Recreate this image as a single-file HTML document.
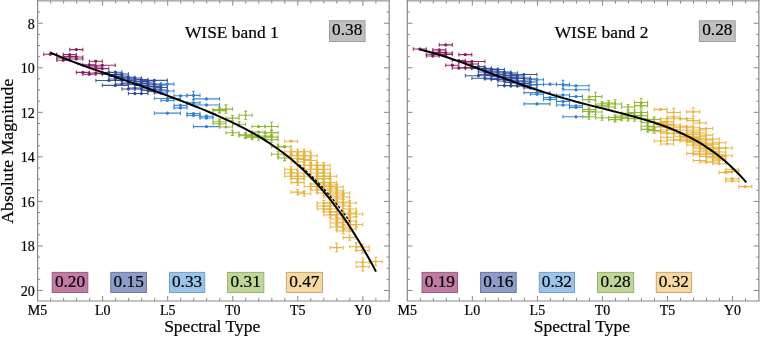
<!DOCTYPE html>
<html><head><meta charset="utf-8"><title>WISE absolute magnitude vs spectral type</title>
<style>html,body{margin:0;padding:0;background:#fff}body{width:760px;height:337px;overflow:hidden}</style></head>
<body>
<svg width="760" height="337" viewBox="0 0 760 337" style="display:block;font-family:'Liberation Serif',serif;filter:blur(0.35px)">
<rect width="760" height="337" fill="#fff"/>
<g id="pts0">
<path d="M43.8 54.2H56.8M43.8 52.5V56.0M56.8 52.5V56.0M50.3 53.0V55.5" stroke="#8a1a5e" stroke-width="1.1" fill="none" opacity="0.92"/>
<circle cx="50.3" cy="54.2" r="1.6" fill="#8a1a5e"/>
<path d="M56.8 58.0H69.8M56.8 56.2V59.8M69.8 56.2V59.8M63.3 56.8V59.2" stroke="#8a1a5e" stroke-width="1.1" fill="none" opacity="0.92"/>
<circle cx="63.3" cy="58.0" r="1.6" fill="#8a1a5e"/>
<path d="M56.8 60.2H69.8M56.8 58.5V62.0M69.8 58.5V62.0M63.3 59.0V61.5" stroke="#8a1a5e" stroke-width="1.1" fill="none" opacity="0.92"/>
<circle cx="63.3" cy="60.2" r="1.6" fill="#8a1a5e"/>
<path d="M63.3 54.6H76.3M63.3 52.8V56.4M76.3 52.8V56.4M69.8 53.4V55.8" stroke="#8a1a5e" stroke-width="1.1" fill="none" opacity="0.92"/>
<circle cx="69.8" cy="54.6" r="1.6" fill="#8a1a5e"/>
<path d="M63.3 56.5H76.3M63.3 54.7V58.3M76.3 54.7V58.3M69.8 55.3V57.7" stroke="#8a1a5e" stroke-width="1.1" fill="none" opacity="0.92"/>
<circle cx="69.8" cy="56.5" r="1.6" fill="#8a1a5e"/>
<path d="M69.8 49.6H82.8M69.8 47.8V51.4M82.8 47.8V51.4M76.3 48.4V50.8" stroke="#8a1a5e" stroke-width="1.1" fill="none" opacity="0.92"/>
<circle cx="76.3" cy="49.6" r="1.6" fill="#8a1a5e"/>
<path d="M69.8 57.0H82.8M69.8 55.2V58.8M82.8 55.2V58.8M76.3 55.8V58.2" stroke="#8a1a5e" stroke-width="1.1" fill="none" opacity="0.92"/>
<circle cx="76.3" cy="57.0" r="1.6" fill="#8a1a5e"/>
<path d="M69.8 59.0H82.8M69.8 57.2V60.8M82.8 57.2V60.8M76.3 57.8V60.2" stroke="#8a1a5e" stroke-width="1.1" fill="none" opacity="0.92"/>
<circle cx="76.3" cy="59.0" r="1.6" fill="#8a1a5e"/>
<path d="M76.3 72.4H89.3M76.3 70.6V74.2M89.3 70.6V74.2M82.8 71.2V73.6" stroke="#8a1a5e" stroke-width="1.1" fill="none" opacity="0.92"/>
<circle cx="82.8" cy="72.4" r="1.6" fill="#8a1a5e"/>
<path d="M82.8 64.9H95.8M82.8 63.1V66.7M95.8 63.1V66.7M89.3 63.7V66.1" stroke="#8a1a5e" stroke-width="1.1" fill="none" opacity="0.92"/>
<circle cx="89.3" cy="64.9" r="1.6" fill="#8a1a5e"/>
<path d="M82.8 74.2H95.8M82.8 72.5V76.0M95.8 72.5V76.0M89.3 73.0V75.5" stroke="#8a1a5e" stroke-width="1.1" fill="none" opacity="0.92"/>
<circle cx="89.3" cy="74.2" r="1.6" fill="#8a1a5e"/>
<path d="M89.3 61.2H102.3M89.3 59.5V63.0M102.3 59.5V63.0M95.8 60.0V62.5" stroke="#8a1a5e" stroke-width="1.1" fill="none" opacity="0.92"/>
<circle cx="95.8" cy="61.2" r="1.6" fill="#8a1a5e"/>
<path d="M89.3 67.0H102.3M89.3 65.2V68.8M102.3 65.2V68.8M95.8 65.8V68.2" stroke="#8a1a5e" stroke-width="1.1" fill="none" opacity="0.92"/>
<circle cx="95.8" cy="67.0" r="1.6" fill="#8a1a5e"/>
<path d="M89.3 73.0H102.3M89.3 71.2V74.8M102.3 71.2V74.8M95.8 71.8V74.2" stroke="#8a1a5e" stroke-width="1.1" fill="none" opacity="0.92"/>
<circle cx="95.8" cy="73.0" r="1.6" fill="#8a1a5e"/>
<path d="M89.3 65.2H115.3M89.3 63.5V67.0M115.3 63.5V67.0M102.3 64.0V66.5" stroke="#8a1a5e" stroke-width="1.1" fill="none" opacity="0.92"/>
<circle cx="102.3" cy="65.2" r="1.6" fill="#8a1a5e"/>
<path d="M95.8 68.6H108.8M95.8 66.8V70.4M108.8 66.8V70.4M102.3 67.4V69.8" stroke="#8a1a5e" stroke-width="1.1" fill="none" opacity="0.92"/>
<circle cx="102.3" cy="68.6" r="1.6" fill="#8a1a5e"/>
<path d="M95.8 73.6H108.8M95.8 71.8V75.4M108.8 71.8V75.4M102.3 72.4V74.8" stroke="#8a1a5e" stroke-width="1.1" fill="none" opacity="0.92"/>
<circle cx="102.3" cy="73.6" r="1.6" fill="#8a1a5e"/>
<path d="M102.4 72.5H115.4M102.4 70.7V74.3M115.4 70.7V74.3M108.9 71.3V73.7" stroke="#2c4a9c" stroke-width="1.1" fill="none" opacity="0.92"/>
<circle cx="108.9" cy="72.5" r="1.6" fill="#2c4a9c"/>
<path d="M102.4 74.5H115.4M102.4 72.7V76.3M115.4 72.7V76.3M108.9 73.3V75.7" stroke="#2c4a9c" stroke-width="1.1" fill="none" opacity="0.92"/>
<circle cx="108.9" cy="74.5" r="1.6" fill="#2c4a9c"/>
<path d="M95.9 80.5H121.9M95.9 78.7V82.3M121.9 78.7V82.3M108.9 79.3V81.7" stroke="#2c4a9c" stroke-width="1.1" fill="none" opacity="0.92"/>
<circle cx="108.9" cy="80.5" r="1.6" fill="#2c4a9c"/>
<path d="M108.9 72.2H121.9M108.9 70.5V74.0M121.9 70.5V74.0M115.4 71.0V73.5" stroke="#2c4a9c" stroke-width="1.1" fill="none" opacity="0.92"/>
<circle cx="115.4" cy="72.2" r="1.6" fill="#2c4a9c"/>
<path d="M108.9 74.5H121.9M108.9 72.7V76.3M121.9 72.7V76.3M115.4 73.3V75.7" stroke="#2c4a9c" stroke-width="1.1" fill="none" opacity="0.92"/>
<circle cx="115.4" cy="74.5" r="1.6" fill="#2c4a9c"/>
<path d="M108.9 76.5H121.9M108.9 74.7V78.3M121.9 74.7V78.3M115.4 75.3V77.7" stroke="#2c4a9c" stroke-width="1.1" fill="none" opacity="0.92"/>
<circle cx="115.4" cy="76.5" r="1.6" fill="#2c4a9c"/>
<path d="M108.9 79.0H121.9M108.9 77.2V80.8M121.9 77.2V80.8M115.4 77.8V80.2" stroke="#2c4a9c" stroke-width="1.1" fill="none" opacity="0.92"/>
<circle cx="115.4" cy="79.0" r="1.6" fill="#2c4a9c"/>
<path d="M102.4 85.4H128.4M102.4 83.6V87.2M128.4 83.6V87.2M115.4 84.2V86.6" stroke="#2c4a9c" stroke-width="1.1" fill="none" opacity="0.92"/>
<circle cx="115.4" cy="85.4" r="1.6" fill="#2c4a9c"/>
<path d="M115.4 74.0H128.4M115.4 72.2V75.8M128.4 72.2V75.8M121.9 72.8V75.2" stroke="#2c4a9c" stroke-width="1.1" fill="none" opacity="0.92"/>
<circle cx="121.9" cy="74.0" r="1.6" fill="#2c4a9c"/>
<path d="M115.4 76.0H128.4M115.4 74.2V77.8M128.4 74.2V77.8M121.9 74.8V77.2" stroke="#2c4a9c" stroke-width="1.1" fill="none" opacity="0.92"/>
<circle cx="121.9" cy="76.0" r="1.6" fill="#2c4a9c"/>
<path d="M115.4 78.0H128.4M115.4 76.2V79.8M128.4 76.2V79.8M121.9 76.8V79.2" stroke="#2c4a9c" stroke-width="1.1" fill="none" opacity="0.92"/>
<circle cx="121.9" cy="78.0" r="1.6" fill="#2c4a9c"/>
<path d="M115.4 80.5H128.4M115.4 78.7V82.3M128.4 78.7V82.3M121.9 79.3V81.7" stroke="#2c4a9c" stroke-width="1.1" fill="none" opacity="0.92"/>
<circle cx="121.9" cy="80.5" r="1.6" fill="#2c4a9c"/>
<path d="M115.4 84.0H128.4M115.4 82.2V85.8M128.4 82.2V85.8M121.9 82.8V85.2" stroke="#2c4a9c" stroke-width="1.1" fill="none" opacity="0.92"/>
<circle cx="121.9" cy="84.0" r="1.6" fill="#2c4a9c"/>
<path d="M121.9 77.2H134.9M121.9 75.5V79.0M134.9 75.5V79.0M128.4 76.0V78.5" stroke="#2c4a9c" stroke-width="1.1" fill="none" opacity="0.92"/>
<circle cx="128.4" cy="77.2" r="1.6" fill="#2c4a9c"/>
<path d="M121.9 79.0H134.9M121.9 77.2V80.8M134.9 77.2V80.8M128.4 77.8V80.2" stroke="#2c4a9c" stroke-width="1.1" fill="none" opacity="0.92"/>
<circle cx="128.4" cy="79.0" r="1.6" fill="#2c4a9c"/>
<path d="M121.9 80.5H134.9M121.9 78.7V82.3M134.9 78.7V82.3M128.4 79.3V81.7" stroke="#2c4a9c" stroke-width="1.1" fill="none" opacity="0.92"/>
<circle cx="128.4" cy="80.5" r="1.6" fill="#2c4a9c"/>
<path d="M121.9 83.0H134.9M121.9 81.2V84.8M134.9 81.2V84.8M128.4 81.8V84.2" stroke="#2c4a9c" stroke-width="1.1" fill="none" opacity="0.92"/>
<circle cx="128.4" cy="83.0" r="1.6" fill="#2c4a9c"/>
<path d="M121.9 89.0H134.9M121.9 87.2V90.8M134.9 87.2V90.8M128.4 87.8V90.2" stroke="#2c4a9c" stroke-width="1.1" fill="none" opacity="0.92"/>
<circle cx="128.4" cy="89.0" r="1.6" fill="#2c4a9c"/>
<path d="M128.4 78.0H141.4M128.4 76.2V79.8M141.4 76.2V79.8M134.9 76.8V79.2" stroke="#2c4a9c" stroke-width="1.1" fill="none" opacity="0.92"/>
<circle cx="134.9" cy="78.0" r="1.6" fill="#2c4a9c"/>
<path d="M128.4 80.0H141.4M128.4 78.2V81.8M141.4 78.2V81.8M134.9 78.8V81.2" stroke="#2c4a9c" stroke-width="1.1" fill="none" opacity="0.92"/>
<circle cx="134.9" cy="80.0" r="1.6" fill="#2c4a9c"/>
<path d="M128.4 82.0H141.4M128.4 80.2V83.8M141.4 80.2V83.8M134.9 80.8V83.2" stroke="#2c4a9c" stroke-width="1.1" fill="none" opacity="0.92"/>
<circle cx="134.9" cy="82.0" r="1.6" fill="#2c4a9c"/>
<path d="M128.4 84.5H141.4M128.4 82.7V86.3M141.4 82.7V86.3M134.9 83.3V85.7" stroke="#2c4a9c" stroke-width="1.1" fill="none" opacity="0.92"/>
<circle cx="134.9" cy="84.5" r="1.6" fill="#2c4a9c"/>
<path d="M128.4 88.0H141.4M128.4 86.2V89.8M141.4 86.2V89.8M134.9 86.8V89.2" stroke="#2c4a9c" stroke-width="1.1" fill="none" opacity="0.92"/>
<circle cx="134.9" cy="88.0" r="1.6" fill="#2c4a9c"/>
<path d="M128.4 93.5H141.4M128.4 91.7V95.3M141.4 91.7V95.3M134.9 92.3V94.7" stroke="#2c4a9c" stroke-width="1.1" fill="none" opacity="0.92"/>
<circle cx="134.9" cy="93.5" r="1.6" fill="#2c4a9c"/>
<path d="M134.9 79.5H147.9M134.9 77.7V81.3M147.9 77.7V81.3M141.4 78.3V80.7" stroke="#2c4a9c" stroke-width="1.1" fill="none" opacity="0.92"/>
<circle cx="141.4" cy="79.5" r="1.6" fill="#2c4a9c"/>
<path d="M134.9 81.5H147.9M134.9 79.7V83.3M147.9 79.7V83.3M141.4 80.3V82.7" stroke="#2c4a9c" stroke-width="1.1" fill="none" opacity="0.92"/>
<circle cx="141.4" cy="81.5" r="1.6" fill="#2c4a9c"/>
<path d="M134.9 83.5H147.9M134.9 81.7V85.3M147.9 81.7V85.3M141.4 82.3V84.7" stroke="#2c4a9c" stroke-width="1.1" fill="none" opacity="0.92"/>
<circle cx="141.4" cy="83.5" r="1.6" fill="#2c4a9c"/>
<path d="M134.9 85.5H147.9M134.9 83.7V87.3M147.9 83.7V87.3M141.4 84.3V86.7" stroke="#2c4a9c" stroke-width="1.1" fill="none" opacity="0.92"/>
<circle cx="141.4" cy="85.5" r="1.6" fill="#2c4a9c"/>
<path d="M134.9 89.0H147.9M134.9 87.2V90.8M147.9 87.2V90.8M141.4 87.8V90.2" stroke="#2c4a9c" stroke-width="1.1" fill="none" opacity="0.92"/>
<circle cx="141.4" cy="89.0" r="1.6" fill="#2c4a9c"/>
<path d="M134.9 93.5H147.9M134.9 91.7V95.3M147.9 91.7V95.3M141.4 92.3V94.7" stroke="#2c4a9c" stroke-width="1.1" fill="none" opacity="0.92"/>
<circle cx="141.4" cy="93.5" r="1.6" fill="#2c4a9c"/>
<path d="M141.4 81.0H154.4M141.4 79.2V82.8M154.4 79.2V82.8M147.9 79.8V82.2" stroke="#2c4a9c" stroke-width="1.1" fill="none" opacity="0.92"/>
<circle cx="147.9" cy="81.0" r="1.6" fill="#2c4a9c"/>
<path d="M141.4 83.0H154.4M141.4 81.2V84.8M154.4 81.2V84.8M147.9 81.8V84.2" stroke="#2c4a9c" stroke-width="1.1" fill="none" opacity="0.92"/>
<circle cx="147.9" cy="83.0" r="1.6" fill="#2c4a9c"/>
<path d="M141.4 85.0H154.4M141.4 83.2V86.8M154.4 83.2V86.8M147.9 83.8V86.2" stroke="#2c4a9c" stroke-width="1.1" fill="none" opacity="0.92"/>
<circle cx="147.9" cy="85.0" r="1.6" fill="#2c4a9c"/>
<path d="M141.4 87.0H154.4M141.4 85.2V88.8M154.4 85.2V88.8M147.9 85.8V88.2" stroke="#2c4a9c" stroke-width="1.1" fill="none" opacity="0.92"/>
<circle cx="147.9" cy="87.0" r="1.6" fill="#2c4a9c"/>
<path d="M141.4 90.5H154.4M141.4 88.7V92.3M154.4 88.7V92.3M147.9 89.3V91.7" stroke="#2c4a9c" stroke-width="1.1" fill="none" opacity="0.92"/>
<circle cx="147.9" cy="90.5" r="1.6" fill="#2c4a9c"/>
<path d="M141.4 80.4H167.4M141.4 78.6V82.2M167.4 78.6V82.2M154.4 79.2V81.6" stroke="#2c4a9c" stroke-width="1.1" fill="none" opacity="0.92"/>
<circle cx="154.4" cy="80.4" r="1.6" fill="#2c4a9c"/>
<path d="M147.9 84.0H160.9M147.9 82.2V85.8M160.9 82.2V85.8M154.4 82.8V85.2" stroke="#2c4a9c" stroke-width="1.1" fill="none" opacity="0.92"/>
<circle cx="154.4" cy="84.0" r="1.6" fill="#2c4a9c"/>
<path d="M147.9 86.5H160.9M147.9 84.7V88.3M160.9 84.7V88.3M154.4 85.3V87.7" stroke="#2c4a9c" stroke-width="1.1" fill="none" opacity="0.92"/>
<circle cx="154.4" cy="86.5" r="1.6" fill="#2c4a9c"/>
<path d="M147.9 89.0H160.9M147.9 87.2V90.8M160.9 87.2V90.8M154.4 87.8V90.2" stroke="#2c4a9c" stroke-width="1.1" fill="none" opacity="0.92"/>
<circle cx="154.4" cy="89.0" r="1.6" fill="#2c4a9c"/>
<path d="M147.9 91.5H160.9M147.9 89.7V93.3M160.9 89.7V93.3M154.4 90.3V92.7" stroke="#2c4a9c" stroke-width="1.1" fill="none" opacity="0.92"/>
<circle cx="154.4" cy="91.5" r="1.6" fill="#2c4a9c"/>
<path d="M154.4 85.0H167.4M154.4 83.2V86.8M167.4 83.2V86.8M160.9 83.8V86.2" stroke="#2c4a9c" stroke-width="1.1" fill="none" opacity="0.92"/>
<circle cx="160.9" cy="85.0" r="1.6" fill="#2c4a9c"/>
<path d="M154.4 87.5H167.4M154.4 85.7V89.3M167.4 85.7V89.3M160.9 86.3V88.7" stroke="#2c4a9c" stroke-width="1.1" fill="none" opacity="0.92"/>
<circle cx="160.9" cy="87.5" r="1.6" fill="#2c4a9c"/>
<path d="M154.4 90.0H167.4M154.4 88.2V91.8M167.4 88.2V91.8M160.9 88.8V91.2" stroke="#2c4a9c" stroke-width="1.1" fill="none" opacity="0.92"/>
<circle cx="160.9" cy="90.0" r="1.6" fill="#2c4a9c"/>
<path d="M154.4 93.0H167.4M154.4 91.2V94.8M167.4 91.2V94.8M160.9 91.8V94.2" stroke="#2c4a9c" stroke-width="1.1" fill="none" opacity="0.92"/>
<circle cx="160.9" cy="93.0" r="1.6" fill="#2c4a9c"/>
<path d="M160.9 84.1H173.9M160.9 82.3V85.9M173.9 82.3V85.9M167.4 82.7V85.5" stroke="#2f7fd2" stroke-width="1.1" fill="none" opacity="0.92"/>
<circle cx="167.4" cy="84.1" r="1.6" fill="#2f7fd2"/>
<path d="M160.9 91.0H173.9M160.9 89.2V92.8M173.9 89.2V92.8M167.4 89.6V92.4" stroke="#2f7fd2" stroke-width="1.1" fill="none" opacity="0.92"/>
<circle cx="167.4" cy="91.0" r="1.6" fill="#2f7fd2"/>
<path d="M154.4 98.5H180.4M154.4 96.7V100.3M180.4 96.7V100.3M167.4 97.1V99.9" stroke="#2f7fd2" stroke-width="1.1" fill="none" opacity="0.92"/>
<circle cx="167.4" cy="98.5" r="1.6" fill="#2f7fd2"/>
<path d="M160.9 100.5H173.9M160.9 98.7V102.3M173.9 98.7V102.3M167.4 99.1V101.9" stroke="#2f7fd2" stroke-width="1.1" fill="none" opacity="0.92"/>
<circle cx="167.4" cy="100.5" r="1.6" fill="#2f7fd2"/>
<path d="M154.4 113.1H180.4M154.4 111.3V114.9M180.4 111.3V114.9M167.4 111.7V114.5" stroke="#2f7fd2" stroke-width="1.1" fill="none" opacity="0.92"/>
<circle cx="167.4" cy="113.1" r="1.6" fill="#2f7fd2"/>
<path d="M174.0 95.8H187.0M174.0 94.0V97.5M187.0 94.0V97.5M180.5 94.3V97.2" stroke="#2f7fd2" stroke-width="1.1" fill="none" opacity="0.92"/>
<circle cx="180.5" cy="95.8" r="1.6" fill="#2f7fd2"/>
<path d="M174.0 105.4H187.0M174.0 103.6V107.2M187.0 103.6V107.2M180.5 104.0V106.8" stroke="#2f7fd2" stroke-width="1.1" fill="none" opacity="0.92"/>
<circle cx="180.5" cy="105.4" r="1.6" fill="#2f7fd2"/>
<path d="M174.0 107.9H187.0M174.0 106.1V109.7M187.0 106.1V109.7M180.5 106.5V109.3" stroke="#2f7fd2" stroke-width="1.1" fill="none" opacity="0.92"/>
<circle cx="180.5" cy="107.9" r="1.6" fill="#2f7fd2"/>
<path d="M187.0 95.4H200.0M187.0 93.6V97.2M200.0 93.6V97.2M193.5 91.2V99.6M192.0 91.2h3M192.0 99.6h3" stroke="#2f7fd2" stroke-width="1.1" fill="none" opacity="0.92"/>
<circle cx="193.5" cy="95.4" r="1.6" fill="#2f7fd2"/>
<path d="M187.0 102.9H200.0M187.0 101.1V104.7M200.0 101.1V104.7M193.5 101.5V104.3" stroke="#2f7fd2" stroke-width="1.1" fill="none" opacity="0.92"/>
<circle cx="193.5" cy="102.9" r="1.6" fill="#2f7fd2"/>
<path d="M187.0 113.5H200.0M187.0 111.7V115.3M200.0 111.7V115.3M193.5 112.1V114.9" stroke="#2f7fd2" stroke-width="1.1" fill="none" opacity="0.92"/>
<circle cx="193.5" cy="113.5" r="1.6" fill="#2f7fd2"/>
<path d="M187.0 115.4H200.0M187.0 113.6V117.2M200.0 113.6V117.2M193.5 114.0V116.8" stroke="#2f7fd2" stroke-width="1.1" fill="none" opacity="0.92"/>
<circle cx="193.5" cy="115.4" r="1.6" fill="#2f7fd2"/>
<path d="M193.5 98.9H219.5M193.5 97.1V100.7M219.5 97.1V100.7M206.5 97.5V100.3" stroke="#2f7fd2" stroke-width="1.1" fill="none" opacity="0.92"/>
<circle cx="206.5" cy="98.9" r="1.6" fill="#2f7fd2"/>
<path d="M193.5 105.0H219.5M193.5 103.2V106.8M219.5 103.2V106.8M206.5 103.6V106.4" stroke="#2f7fd2" stroke-width="1.1" fill="none" opacity="0.92"/>
<circle cx="206.5" cy="105.0" r="1.6" fill="#2f7fd2"/>
<path d="M200.0 116.2H213.0M200.0 114.5V118.0M213.0 114.5V118.0M206.5 114.8V117.7" stroke="#2f7fd2" stroke-width="1.1" fill="none" opacity="0.92"/>
<circle cx="206.5" cy="116.2" r="1.6" fill="#2f7fd2"/>
<path d="M200.0 118.0H213.0M200.0 116.2V119.8M213.0 116.2V119.8M206.5 116.6V119.4" stroke="#2f7fd2" stroke-width="1.1" fill="none" opacity="0.92"/>
<circle cx="206.5" cy="118.0" r="1.6" fill="#2f7fd2"/>
<path d="M193.5 126.6H219.5M193.5 124.8V128.4M219.5 124.8V128.4M206.5 125.2V128.0" stroke="#2f7fd2" stroke-width="1.1" fill="none" opacity="0.92"/>
<circle cx="206.5" cy="126.6" r="1.6" fill="#2f7fd2"/>
<path d="M213.0 109.6H226.0M213.0 107.8V111.4M226.0 107.8V111.4M219.5 107.0V112.2M218.0 107.0h3M218.0 112.2h3" stroke="#8db32d" stroke-width="1.1" fill="none" opacity="0.92"/>
<circle cx="219.5" cy="109.6" r="1.1" fill="#8db32d"/>
<path d="M213.0 110.6H226.0M213.0 108.8V112.4M226.0 108.8V112.4M219.5 108.0V113.2M218.0 108.0h3M218.0 113.2h3" stroke="#8db32d" stroke-width="1.1" fill="none" opacity="0.92"/>
<circle cx="219.5" cy="110.6" r="1.1" fill="#8db32d"/>
<path d="M213.0 121.7H226.0M213.0 119.9V123.5M226.0 119.9V123.5M219.5 119.1V124.3M218.0 119.1h3M218.0 124.3h3" stroke="#8db32d" stroke-width="1.1" fill="none" opacity="0.92"/>
<circle cx="219.5" cy="121.7" r="1.1" fill="#8db32d"/>
<path d="M213.0 123.7H226.0M213.0 121.9V125.5M226.0 121.9V125.5M219.5 121.1V126.3M218.0 121.1h3M218.0 126.3h3" stroke="#8db32d" stroke-width="1.1" fill="none" opacity="0.92"/>
<circle cx="219.5" cy="123.7" r="1.1" fill="#8db32d"/>
<path d="M219.5 109.1H232.5M219.5 107.3V110.9M232.5 107.3V110.9M226.0 104.9V113.3M224.5 104.9h3M224.5 113.3h3" stroke="#8db32d" stroke-width="1.1" fill="none" opacity="0.92"/>
<circle cx="226.0" cy="109.1" r="1.1" fill="#8db32d"/>
<path d="M219.5 127.0H232.5M219.5 125.2V128.8M232.5 125.2V128.8M226.0 126.0V128.0" stroke="#8db32d" stroke-width="1.1" fill="none" opacity="0.92"/>
<circle cx="226.0" cy="127.0" r="1.6" fill="#8db32d"/>
<path d="M226.0 118.1H239.0M226.0 116.3V119.9M239.0 116.3V119.9M232.5 115.5V120.7M231.0 115.5h3M231.0 120.7h3" stroke="#8db32d" stroke-width="1.1" fill="none" opacity="0.92"/>
<circle cx="232.5" cy="118.1" r="1.1" fill="#8db32d"/>
<path d="M226.0 132.8H239.0M226.0 131.0V134.6M239.0 131.0V134.6M232.5 130.2V135.4M231.0 130.2h3M231.0 135.4h3" stroke="#8db32d" stroke-width="1.1" fill="none" opacity="0.92"/>
<circle cx="232.5" cy="132.8" r="1.1" fill="#8db32d"/>
<path d="M232.6 124.2H245.6M232.6 122.4V126.0M245.6 122.4V126.0M239.1 121.6V126.8M237.6 121.6h3M237.6 126.8h3" stroke="#8db32d" stroke-width="1.1" fill="none" opacity="0.92"/>
<circle cx="239.1" cy="124.2" r="1.1" fill="#8db32d"/>
<path d="M239.1 115.3H252.1M239.1 113.5V117.1M252.1 113.5V117.1M245.6 111.1V119.5M244.1 111.1h3M244.1 119.5h3" stroke="#8db32d" stroke-width="1.1" fill="none" opacity="0.92"/>
<circle cx="245.6" cy="115.3" r="1.1" fill="#8db32d"/>
<path d="M239.1 134.9H252.1M239.1 133.1V136.7M252.1 133.1V136.7M245.6 132.3V137.5M244.1 132.3h3M244.1 137.5h3" stroke="#8db32d" stroke-width="1.1" fill="none" opacity="0.92"/>
<circle cx="245.6" cy="134.9" r="1.1" fill="#8db32d"/>
<path d="M239.1 135.8H252.1M239.1 134.0V137.6M252.1 134.0V137.6M245.6 133.2V138.4M244.1 133.2h3M244.1 138.4h3" stroke="#8db32d" stroke-width="1.1" fill="none" opacity="0.92"/>
<circle cx="245.6" cy="135.8" r="1.1" fill="#8db32d"/>
<path d="M245.6 136.1H258.6M245.6 134.3V137.9M258.6 134.3V137.9M252.1 133.5V138.7M250.6 133.5h3M250.6 138.7h3" stroke="#8db32d" stroke-width="1.1" fill="none" opacity="0.92"/>
<circle cx="252.1" cy="136.1" r="1.1" fill="#8db32d"/>
<path d="M245.6 137.1H258.6M245.6 135.3V138.9M258.6 135.3V138.9M252.1 134.5V139.7M250.6 134.5h3M250.6 139.7h3" stroke="#8db32d" stroke-width="1.1" fill="none" opacity="0.92"/>
<circle cx="252.1" cy="137.1" r="1.1" fill="#8db32d"/>
<path d="M252.1 126.5H265.1M252.1 124.7V128.3M265.1 124.7V128.3M258.6 125.5V127.5" stroke="#8db32d" stroke-width="1.1" fill="none" opacity="0.92"/>
<circle cx="258.6" cy="126.5" r="1.6" fill="#8db32d"/>
<path d="M252.1 132.1H265.1M252.1 130.3V133.9M265.1 130.3V133.9M258.6 131.1V133.1" stroke="#8db32d" stroke-width="1.1" fill="none" opacity="0.92"/>
<circle cx="258.6" cy="132.1" r="1.6" fill="#8db32d"/>
<path d="M252.1 137.6H265.1M252.1 135.8V139.4M265.1 135.8V139.4M258.6 135.0V140.2M257.1 135.0h3M257.1 140.2h3" stroke="#8db32d" stroke-width="1.1" fill="none" opacity="0.92"/>
<circle cx="258.6" cy="137.6" r="1.1" fill="#8db32d"/>
<path d="M258.6 136.1H271.6M258.6 134.3V137.9M271.6 134.3V137.9M265.1 133.5V138.7M263.6 133.5h3M263.6 138.7h3" stroke="#8db32d" stroke-width="1.1" fill="none" opacity="0.92"/>
<circle cx="265.1" cy="136.1" r="1.1" fill="#8db32d"/>
<path d="M265.1 126.5H278.1M265.1 124.7V128.3M278.1 124.7V128.3M271.6 122.3V130.7M270.1 122.3h3M270.1 130.7h3" stroke="#8db32d" stroke-width="1.1" fill="none" opacity="0.92"/>
<circle cx="271.6" cy="126.5" r="1.1" fill="#8db32d"/>
<path d="M265.1 132.6H278.1M265.1 130.8V134.4M278.1 130.8V134.4M271.6 130.0V135.2M270.1 130.0h3M270.1 135.2h3" stroke="#8db32d" stroke-width="1.1" fill="none" opacity="0.92"/>
<circle cx="271.6" cy="132.6" r="1.1" fill="#8db32d"/>
<path d="M265.1 137.1H278.1M265.1 135.3V138.9M278.1 135.3V138.9M271.6 134.5V139.7M270.1 134.5h3M270.1 139.7h3" stroke="#8db32d" stroke-width="1.1" fill="none" opacity="0.92"/>
<circle cx="271.6" cy="137.1" r="1.1" fill="#8db32d"/>
<path d="M265.1 139.6H278.1M265.1 137.8V141.4M278.1 137.8V141.4M271.6 137.0V142.2M270.1 137.0h3M270.1 142.2h3" stroke="#8db32d" stroke-width="1.1" fill="none" opacity="0.92"/>
<circle cx="271.6" cy="139.6" r="1.1" fill="#8db32d"/>
<path d="M271.6 146.7H284.6M271.6 144.9V148.5M284.6 144.9V148.5M278.1 144.1V149.3M276.6 144.1h3M276.6 149.3h3" stroke="#8db32d" stroke-width="1.1" fill="none" opacity="0.92"/>
<circle cx="278.1" cy="146.7" r="1.1" fill="#8db32d"/>
<path d="M271.6 154.3H284.6M271.6 152.5V156.1M284.6 152.5V156.1M278.1 151.7V156.9M276.6 151.7h3M276.6 156.9h3" stroke="#8db32d" stroke-width="1.1" fill="none" opacity="0.92"/>
<circle cx="278.1" cy="154.3" r="1.1" fill="#8db32d"/>
<path d="M278.1 146.7H291.1M278.1 144.9V148.5M291.1 144.9V148.5M284.6 145.7V147.7" stroke="#8db32d" stroke-width="1.1" fill="none" opacity="0.92"/>
<circle cx="284.6" cy="146.7" r="1.6" fill="#8db32d"/>
<path d="M278.1 158.0H291.1M278.1 156.2V159.8M291.1 156.2V159.8M284.6 155.4V160.6M283.1 155.4h3M283.1 160.6h3" stroke="#8db32d" stroke-width="1.1" fill="none" opacity="0.92"/>
<circle cx="284.6" cy="158.0" r="1.1" fill="#8db32d"/>
<path d="M284.6 141.2H297.6M284.6 139.4V143.0M297.6 139.4V143.0M291.1 140.2V142.2" stroke="#e6b13a" stroke-width="1.1" fill="none" opacity="0.92"/>
<circle cx="291.1" cy="141.2" r="1.6" fill="#e6b13a"/>
<path d="M284.6 151.8H297.6M284.6 150.0V153.6M297.6 150.0V153.6M291.1 149.2V154.4M289.6 149.2h3M289.6 154.4h3" stroke="#e6b13a" stroke-width="1.1" fill="none" opacity="0.92"/>
<circle cx="291.1" cy="151.8" r="1.1" fill="#e6b13a"/>
<path d="M284.6 155.7H297.6M284.6 153.9V157.5M297.6 153.9V157.5M291.1 153.1V158.3M289.6 153.1h3M289.6 158.3h3" stroke="#e6b13a" stroke-width="1.1" fill="none" opacity="0.92"/>
<circle cx="291.1" cy="155.7" r="1.1" fill="#e6b13a"/>
<path d="M284.6 169.2H297.6M284.6 167.4V171.0M297.6 167.4V171.0M291.1 166.6V171.8M289.6 166.6h3M289.6 171.8h3" stroke="#e6b13a" stroke-width="1.1" fill="none" opacity="0.92"/>
<circle cx="291.1" cy="169.2" r="1.1" fill="#e6b13a"/>
<path d="M284.6 173.0H297.6M284.6 171.2V174.8M297.6 171.2V174.8M291.1 170.4V175.6M289.6 170.4h3M289.6 175.6h3" stroke="#e6b13a" stroke-width="1.1" fill="none" opacity="0.92"/>
<circle cx="291.1" cy="173.0" r="1.1" fill="#e6b13a"/>
<path d="M284.6 176.3H297.6M284.6 174.5V178.1M297.6 174.5V178.1M291.1 173.7V178.9M289.6 173.7h3M289.6 178.9h3" stroke="#e6b13a" stroke-width="1.1" fill="none" opacity="0.92"/>
<circle cx="291.1" cy="176.3" r="1.1" fill="#e6b13a"/>
<path d="M291.1 151.8H304.1M291.1 150.0V153.6M304.1 150.0V153.6M297.6 149.2V154.4M296.1 149.2h3M296.1 154.4h3" stroke="#e6b13a" stroke-width="1.1" fill="none" opacity="0.92"/>
<circle cx="297.6" cy="151.8" r="1.1" fill="#e6b13a"/>
<path d="M291.1 155.7H304.1M291.1 153.9V157.5M304.1 153.9V157.5M297.6 153.1V158.3M296.1 153.1h3M296.1 158.3h3" stroke="#e6b13a" stroke-width="1.1" fill="none" opacity="0.92"/>
<circle cx="297.6" cy="155.7" r="1.1" fill="#e6b13a"/>
<path d="M291.1 158.5H304.1M291.1 156.7V160.3M304.1 156.7V160.3M297.6 155.9V161.1M296.1 155.9h3M296.1 161.1h3" stroke="#e6b13a" stroke-width="1.1" fill="none" opacity="0.92"/>
<circle cx="297.6" cy="158.5" r="1.1" fill="#e6b13a"/>
<path d="M291.1 162.0H304.1M291.1 160.2V163.8M304.1 160.2V163.8M297.6 159.4V164.6M296.1 159.4h3M296.1 164.6h3" stroke="#e6b13a" stroke-width="1.1" fill="none" opacity="0.92"/>
<circle cx="297.6" cy="162.0" r="1.1" fill="#e6b13a"/>
<path d="M291.1 173.0H304.1M291.1 171.2V174.8M304.1 171.2V174.8M297.6 170.4V175.6M296.1 170.4h3M296.1 175.6h3" stroke="#e6b13a" stroke-width="1.1" fill="none" opacity="0.92"/>
<circle cx="297.6" cy="173.0" r="1.1" fill="#e6b13a"/>
<path d="M291.1 176.3H304.1M291.1 174.5V178.1M304.1 174.5V178.1M297.6 173.7V178.9M296.1 173.7h3M296.1 178.9h3" stroke="#e6b13a" stroke-width="1.1" fill="none" opacity="0.92"/>
<circle cx="297.6" cy="176.3" r="1.1" fill="#e6b13a"/>
<path d="M291.1 178.6H304.1M291.1 176.8V180.4M304.1 176.8V180.4M297.6 176.0V181.2M296.1 176.0h3M296.1 181.2h3" stroke="#e6b13a" stroke-width="1.1" fill="none" opacity="0.92"/>
<circle cx="297.6" cy="178.6" r="1.1" fill="#e6b13a"/>
<path d="M291.1 182.6H304.1M291.1 180.8V184.4M304.1 180.8V184.4M297.6 180.0V185.2M296.1 180.0h3M296.1 185.2h3" stroke="#e6b13a" stroke-width="1.1" fill="none" opacity="0.92"/>
<circle cx="297.6" cy="182.6" r="1.1" fill="#e6b13a"/>
<path d="M291.1 192.1H304.1M291.1 190.3V193.9M304.1 190.3V193.9M297.6 189.5V194.7M296.1 189.5h3M296.1 194.7h3" stroke="#e6b13a" stroke-width="1.1" fill="none" opacity="0.92"/>
<circle cx="297.6" cy="192.1" r="1.1" fill="#e6b13a"/>
<path d="M297.7 151.8H310.7M297.7 150.0V153.6M310.7 150.0V153.6M304.2 149.2V154.4M302.7 149.2h3M302.7 154.4h3" stroke="#e6b13a" stroke-width="1.1" fill="none" opacity="0.92"/>
<circle cx="304.2" cy="151.8" r="1.1" fill="#e6b13a"/>
<path d="M297.7 155.7H310.7M297.7 153.9V157.5M310.7 153.9V157.5M304.2 153.1V158.3M302.7 153.1h3M302.7 158.3h3" stroke="#e6b13a" stroke-width="1.1" fill="none" opacity="0.92"/>
<circle cx="304.2" cy="155.7" r="1.1" fill="#e6b13a"/>
<path d="M297.7 159.5H310.7M297.7 157.7V161.3M310.7 157.7V161.3M304.2 156.9V162.1M302.7 156.9h3M302.7 162.1h3" stroke="#e6b13a" stroke-width="1.1" fill="none" opacity="0.92"/>
<circle cx="304.2" cy="159.5" r="1.1" fill="#e6b13a"/>
<path d="M297.7 165.2H310.7M297.7 163.4V167.0M310.7 163.4V167.0M304.2 162.6V167.8M302.7 162.6h3M302.7 167.8h3" stroke="#e6b13a" stroke-width="1.1" fill="none" opacity="0.92"/>
<circle cx="304.2" cy="165.2" r="1.1" fill="#e6b13a"/>
<path d="M297.7 176.3H310.7M297.7 174.5V178.1M310.7 174.5V178.1M304.2 173.7V178.9M302.7 173.7h3M302.7 178.9h3" stroke="#e6b13a" stroke-width="1.1" fill="none" opacity="0.92"/>
<circle cx="304.2" cy="176.3" r="1.1" fill="#e6b13a"/>
<path d="M297.7 193.7H310.7M297.7 191.9V195.5M310.7 191.9V195.5M304.2 191.1V196.3M302.7 191.1h3M302.7 196.3h3" stroke="#e6b13a" stroke-width="1.1" fill="none" opacity="0.92"/>
<circle cx="304.2" cy="193.7" r="1.1" fill="#e6b13a"/>
<path d="M304.2 155.7H317.2M304.2 153.9V157.5M317.2 153.9V157.5M310.7 153.1V158.3M309.2 153.1h3M309.2 158.3h3" stroke="#e6b13a" stroke-width="1.1" fill="none" opacity="0.92"/>
<circle cx="310.7" cy="155.7" r="1.1" fill="#e6b13a"/>
<path d="M304.2 160.5H317.2M304.2 158.7V162.3M317.2 158.7V162.3M310.7 157.9V163.1M309.2 157.9h3M309.2 163.1h3" stroke="#e6b13a" stroke-width="1.1" fill="none" opacity="0.92"/>
<circle cx="310.7" cy="160.5" r="1.1" fill="#e6b13a"/>
<path d="M304.2 165.2H317.2M304.2 163.4V167.0M317.2 163.4V167.0M310.7 162.6V167.8M309.2 162.6h3M309.2 167.8h3" stroke="#e6b13a" stroke-width="1.1" fill="none" opacity="0.92"/>
<circle cx="310.7" cy="165.2" r="1.1" fill="#e6b13a"/>
<path d="M304.2 169.2H317.2M304.2 167.4V171.0M317.2 167.4V171.0M310.7 166.6V171.8M309.2 166.6h3M309.2 171.8h3" stroke="#e6b13a" stroke-width="1.1" fill="none" opacity="0.92"/>
<circle cx="310.7" cy="169.2" r="1.1" fill="#e6b13a"/>
<path d="M304.2 186.5H317.2M304.2 184.7V188.3M317.2 184.7V188.3M310.7 183.9V189.1M309.2 183.9h3M309.2 189.1h3" stroke="#e6b13a" stroke-width="1.1" fill="none" opacity="0.92"/>
<circle cx="310.7" cy="186.5" r="1.1" fill="#e6b13a"/>
<path d="M310.7 165.2H323.7M310.7 163.4V167.0M323.7 163.4V167.0M317.2 162.6V167.8M315.7 162.6h3M315.7 167.8h3" stroke="#e6b13a" stroke-width="1.1" fill="none" opacity="0.92"/>
<circle cx="317.2" cy="165.2" r="1.1" fill="#e6b13a"/>
<path d="M310.7 169.2H323.7M310.7 167.4V171.0M323.7 167.4V171.0M317.2 166.6V171.8M315.7 166.6h3M315.7 171.8h3" stroke="#e6b13a" stroke-width="1.1" fill="none" opacity="0.92"/>
<circle cx="317.2" cy="169.2" r="1.1" fill="#e6b13a"/>
<path d="M310.7 173.0H323.7M310.7 171.2V174.8M323.7 171.2V174.8M317.2 170.4V175.6M315.7 170.4h3M315.7 175.6h3" stroke="#e6b13a" stroke-width="1.1" fill="none" opacity="0.92"/>
<circle cx="317.2" cy="173.0" r="1.1" fill="#e6b13a"/>
<path d="M310.7 176.3H323.7M310.7 174.5V178.1M323.7 174.5V178.1M317.2 173.7V178.9M315.7 173.7h3M315.7 178.9h3" stroke="#e6b13a" stroke-width="1.1" fill="none" opacity="0.92"/>
<circle cx="317.2" cy="176.3" r="1.1" fill="#e6b13a"/>
<path d="M310.7 178.6H323.7M310.7 176.8V180.4M323.7 176.8V180.4M317.2 176.0V181.2M315.7 176.0h3M315.7 181.2h3" stroke="#e6b13a" stroke-width="1.1" fill="none" opacity="0.92"/>
<circle cx="317.2" cy="178.6" r="1.1" fill="#e6b13a"/>
<path d="M310.7 186.5H323.7M310.7 184.7V188.3M323.7 184.7V188.3M317.2 183.9V189.1M315.7 183.9h3M315.7 189.1h3" stroke="#e6b13a" stroke-width="1.1" fill="none" opacity="0.92"/>
<circle cx="317.2" cy="186.5" r="1.1" fill="#e6b13a"/>
<path d="M310.7 190.0H323.7M310.7 188.2V191.8M323.7 188.2V191.8M317.2 187.4V192.6M315.7 187.4h3M315.7 192.6h3" stroke="#e6b13a" stroke-width="1.1" fill="none" opacity="0.92"/>
<circle cx="317.2" cy="190.0" r="1.1" fill="#e6b13a"/>
<path d="M310.7 184.0H323.7M310.7 182.2V185.8M323.7 182.2V185.8M317.2 181.4V186.6M315.7 181.4h3M315.7 186.6h3" stroke="#e6b13a" stroke-width="1.1" fill="none" opacity="0.92"/>
<circle cx="317.2" cy="184.0" r="1.1" fill="#e6b13a"/>
<path d="M317.2 165.2H330.2M317.2 163.4V167.0M330.2 163.4V167.0M323.7 162.6V167.8M322.2 162.6h3M322.2 167.8h3" stroke="#e6b13a" stroke-width="1.1" fill="none" opacity="0.92"/>
<circle cx="323.7" cy="165.2" r="1.1" fill="#e6b13a"/>
<path d="M317.2 169.2H330.2M317.2 167.4V171.0M330.2 167.4V171.0M323.7 166.6V171.8M322.2 166.6h3M322.2 171.8h3" stroke="#e6b13a" stroke-width="1.1" fill="none" opacity="0.92"/>
<circle cx="323.7" cy="169.2" r="1.1" fill="#e6b13a"/>
<path d="M317.2 173.0H330.2M317.2 171.2V174.8M330.2 171.2V174.8M323.7 170.4V175.6M322.2 170.4h3M322.2 175.6h3" stroke="#e6b13a" stroke-width="1.1" fill="none" opacity="0.92"/>
<circle cx="323.7" cy="173.0" r="1.1" fill="#e6b13a"/>
<path d="M317.2 176.3H330.2M317.2 174.5V178.1M330.2 174.5V178.1M323.7 173.7V178.9M322.2 173.7h3M322.2 178.9h3" stroke="#e6b13a" stroke-width="1.1" fill="none" opacity="0.92"/>
<circle cx="323.7" cy="176.3" r="1.1" fill="#e6b13a"/>
<path d="M317.2 178.6H330.2M317.2 176.8V180.4M330.2 176.8V180.4M323.7 176.0V181.2M322.2 176.0h3M322.2 181.2h3" stroke="#e6b13a" stroke-width="1.1" fill="none" opacity="0.92"/>
<circle cx="323.7" cy="178.6" r="1.1" fill="#e6b13a"/>
<path d="M317.2 182.6H330.2M317.2 180.8V184.4M330.2 180.8V184.4M323.7 180.0V185.2M322.2 180.0h3M322.2 185.2h3" stroke="#e6b13a" stroke-width="1.1" fill="none" opacity="0.92"/>
<circle cx="323.7" cy="182.6" r="1.1" fill="#e6b13a"/>
<path d="M317.2 186.5H330.2M317.2 184.7V188.3M330.2 184.7V188.3M323.7 183.9V189.1M322.2 183.9h3M322.2 189.1h3" stroke="#e6b13a" stroke-width="1.1" fill="none" opacity="0.92"/>
<circle cx="323.7" cy="186.5" r="1.1" fill="#e6b13a"/>
<path d="M317.2 190.0H330.2M317.2 188.2V191.8M330.2 188.2V191.8M323.7 187.4V192.6M322.2 187.4h3M322.2 192.6h3" stroke="#e6b13a" stroke-width="1.1" fill="none" opacity="0.92"/>
<circle cx="323.7" cy="190.0" r="1.1" fill="#e6b13a"/>
<path d="M317.2 193.0H330.2M317.2 191.2V194.8M330.2 191.2V194.8M323.7 190.4V195.6M322.2 190.4h3M322.2 195.6h3" stroke="#e6b13a" stroke-width="1.1" fill="none" opacity="0.92"/>
<circle cx="323.7" cy="193.0" r="1.1" fill="#e6b13a"/>
<path d="M317.2 203.0H330.2M317.2 201.2V204.8M330.2 201.2V204.8M323.7 200.4V205.6M322.2 200.4h3M322.2 205.6h3" stroke="#e6b13a" stroke-width="1.1" fill="none" opacity="0.92"/>
<circle cx="323.7" cy="203.0" r="1.1" fill="#e6b13a"/>
<path d="M317.2 206.0H330.2M317.2 204.2V207.8M330.2 204.2V207.8M323.7 203.4V208.6M322.2 203.4h3M322.2 208.6h3" stroke="#e6b13a" stroke-width="1.1" fill="none" opacity="0.92"/>
<circle cx="323.7" cy="206.0" r="1.1" fill="#e6b13a"/>
<path d="M317.2 209.0H330.2M317.2 207.2V210.8M330.2 207.2V210.8M323.7 206.4V211.6M322.2 206.4h3M322.2 211.6h3" stroke="#e6b13a" stroke-width="1.1" fill="none" opacity="0.92"/>
<circle cx="323.7" cy="209.0" r="1.1" fill="#e6b13a"/>
<path d="M323.7 176.3H336.7M323.7 174.5V178.1M336.7 174.5V178.1M330.2 173.7V178.9M328.7 173.7h3M328.7 178.9h3" stroke="#e6b13a" stroke-width="1.1" fill="none" opacity="0.92"/>
<circle cx="330.2" cy="176.3" r="1.1" fill="#e6b13a"/>
<path d="M323.7 182.6H336.7M323.7 180.8V184.4M336.7 180.8V184.4M330.2 180.0V185.2M328.7 180.0h3M328.7 185.2h3" stroke="#e6b13a" stroke-width="1.1" fill="none" opacity="0.92"/>
<circle cx="330.2" cy="182.6" r="1.1" fill="#e6b13a"/>
<path d="M323.7 186.5H336.7M323.7 184.7V188.3M336.7 184.7V188.3M330.2 183.9V189.1M328.7 183.9h3M328.7 189.1h3" stroke="#e6b13a" stroke-width="1.1" fill="none" opacity="0.92"/>
<circle cx="330.2" cy="186.5" r="1.1" fill="#e6b13a"/>
<path d="M323.7 185.0H336.7M323.7 183.2V186.8M336.7 183.2V186.8M330.2 182.4V187.6M328.7 182.4h3M328.7 187.6h3" stroke="#e6b13a" stroke-width="1.1" fill="none" opacity="0.92"/>
<circle cx="330.2" cy="185.0" r="1.1" fill="#e6b13a"/>
<path d="M323.7 189.0H336.7M323.7 187.2V190.8M336.7 187.2V190.8M330.2 186.4V191.6M328.7 186.4h3M328.7 191.6h3" stroke="#e6b13a" stroke-width="1.1" fill="none" opacity="0.92"/>
<circle cx="330.2" cy="189.0" r="1.1" fill="#e6b13a"/>
<path d="M323.7 193.0H336.7M323.7 191.2V194.8M336.7 191.2V194.8M330.2 190.4V195.6M328.7 190.4h3M328.7 195.6h3" stroke="#e6b13a" stroke-width="1.1" fill="none" opacity="0.92"/>
<circle cx="330.2" cy="193.0" r="1.1" fill="#e6b13a"/>
<path d="M323.7 197.0H336.7M323.7 195.2V198.8M336.7 195.2V198.8M330.2 194.4V199.6M328.7 194.4h3M328.7 199.6h3" stroke="#e6b13a" stroke-width="1.1" fill="none" opacity="0.92"/>
<circle cx="330.2" cy="197.0" r="1.1" fill="#e6b13a"/>
<path d="M323.7 203.0H336.7M323.7 201.2V204.8M336.7 201.2V204.8M330.2 200.4V205.6M328.7 200.4h3M328.7 205.6h3" stroke="#e6b13a" stroke-width="1.1" fill="none" opacity="0.92"/>
<circle cx="330.2" cy="203.0" r="1.1" fill="#e6b13a"/>
<path d="M323.7 206.0H336.7M323.7 204.2V207.8M336.7 204.2V207.8M330.2 203.4V208.6M328.7 203.4h3M328.7 208.6h3" stroke="#e6b13a" stroke-width="1.1" fill="none" opacity="0.92"/>
<circle cx="330.2" cy="206.0" r="1.1" fill="#e6b13a"/>
<path d="M323.7 209.0H336.7M323.7 207.2V210.8M336.7 207.2V210.8M330.2 206.4V211.6M328.7 206.4h3M328.7 211.6h3" stroke="#e6b13a" stroke-width="1.1" fill="none" opacity="0.92"/>
<circle cx="330.2" cy="209.0" r="1.1" fill="#e6b13a"/>
<path d="M323.7 212.0H336.7M323.7 210.2V213.8M336.7 210.2V213.8M330.2 209.4V214.6M328.7 209.4h3M328.7 214.6h3" stroke="#e6b13a" stroke-width="1.1" fill="none" opacity="0.92"/>
<circle cx="330.2" cy="212.0" r="1.1" fill="#e6b13a"/>
<path d="M323.7 215.0H336.7M323.7 213.2V216.8M336.7 213.2V216.8M330.2 212.4V217.6M328.7 212.4h3M328.7 217.6h3" stroke="#e6b13a" stroke-width="1.1" fill="none" opacity="0.92"/>
<circle cx="330.2" cy="215.0" r="1.1" fill="#e6b13a"/>
<path d="M330.2 187.0H343.2M330.2 185.2V188.8M343.2 185.2V188.8M336.7 184.4V189.6M335.2 184.4h3M335.2 189.6h3" stroke="#e6b13a" stroke-width="1.1" fill="none" opacity="0.92"/>
<circle cx="336.7" cy="187.0" r="1.1" fill="#e6b13a"/>
<path d="M330.2 191.0H343.2M330.2 189.2V192.8M343.2 189.2V192.8M336.7 188.4V193.6M335.2 188.4h3M335.2 193.6h3" stroke="#e6b13a" stroke-width="1.1" fill="none" opacity="0.92"/>
<circle cx="336.7" cy="191.0" r="1.1" fill="#e6b13a"/>
<path d="M330.2 195.0H343.2M330.2 193.2V196.8M343.2 193.2V196.8M336.7 192.4V197.6M335.2 192.4h3M335.2 197.6h3" stroke="#e6b13a" stroke-width="1.1" fill="none" opacity="0.92"/>
<circle cx="336.7" cy="195.0" r="1.1" fill="#e6b13a"/>
<path d="M330.2 199.0H343.2M330.2 197.2V200.8M343.2 197.2V200.8M336.7 196.4V201.6M335.2 196.4h3M335.2 201.6h3" stroke="#e6b13a" stroke-width="1.1" fill="none" opacity="0.92"/>
<circle cx="336.7" cy="199.0" r="1.1" fill="#e6b13a"/>
<path d="M330.2 203.0H343.2M330.2 201.2V204.8M343.2 201.2V204.8M336.7 200.4V205.6M335.2 200.4h3M335.2 205.6h3" stroke="#e6b13a" stroke-width="1.1" fill="none" opacity="0.92"/>
<circle cx="336.7" cy="203.0" r="1.1" fill="#e6b13a"/>
<path d="M330.2 211.5H343.2M330.2 209.7V213.3M343.2 209.7V213.3M336.7 208.9V214.1M335.2 208.9h3M335.2 214.1h3" stroke="#e6b13a" stroke-width="1.1" fill="none" opacity="0.92"/>
<circle cx="336.7" cy="211.5" r="1.1" fill="#e6b13a"/>
<path d="M330.2 215.0H343.2M330.2 213.2V216.8M343.2 213.2V216.8M336.7 212.4V217.6M335.2 212.4h3M335.2 217.6h3" stroke="#e6b13a" stroke-width="1.1" fill="none" opacity="0.92"/>
<circle cx="336.7" cy="215.0" r="1.1" fill="#e6b13a"/>
<path d="M330.2 219.0H343.2M330.2 217.2V220.8M343.2 217.2V220.8M336.7 216.4V221.6M335.2 216.4h3M335.2 221.6h3" stroke="#e6b13a" stroke-width="1.1" fill="none" opacity="0.92"/>
<circle cx="336.7" cy="219.0" r="1.1" fill="#e6b13a"/>
<path d="M330.2 223.0H343.2M330.2 221.2V224.8M343.2 221.2V224.8M336.7 220.4V225.6M335.2 220.4h3M335.2 225.6h3" stroke="#e6b13a" stroke-width="1.1" fill="none" opacity="0.92"/>
<circle cx="336.7" cy="223.0" r="1.1" fill="#e6b13a"/>
<path d="M330.2 227.0H343.2M330.2 225.2V228.8M343.2 225.2V228.8M336.7 224.4V229.6M335.2 224.4h3M335.2 229.6h3" stroke="#e6b13a" stroke-width="1.1" fill="none" opacity="0.92"/>
<circle cx="336.7" cy="227.0" r="1.1" fill="#e6b13a"/>
<path d="M330.2 247.6H343.2M330.2 245.8V249.4M343.2 245.8V249.4M336.7 243.4V251.8M335.2 243.4h3M335.2 251.8h3" stroke="#e6b13a" stroke-width="1.1" fill="none" opacity="0.92"/>
<circle cx="336.7" cy="247.6" r="1.1" fill="#e6b13a"/>
<path d="M336.7 193.0H349.7M336.7 191.2V194.8M349.7 191.2V194.8M343.2 190.4V195.6M341.7 190.4h3M341.7 195.6h3" stroke="#e6b13a" stroke-width="1.1" fill="none" opacity="0.92"/>
<circle cx="343.2" cy="193.0" r="1.1" fill="#e6b13a"/>
<path d="M336.7 197.0H349.7M336.7 195.2V198.8M349.7 195.2V198.8M343.2 194.4V199.6M341.7 194.4h3M341.7 199.6h3" stroke="#e6b13a" stroke-width="1.1" fill="none" opacity="0.92"/>
<circle cx="343.2" cy="197.0" r="1.1" fill="#e6b13a"/>
<path d="M336.7 202.0H349.7M336.7 200.2V203.8M349.7 200.2V203.8M343.2 199.4V204.6M341.7 199.4h3M341.7 204.6h3" stroke="#e6b13a" stroke-width="1.1" fill="none" opacity="0.92"/>
<circle cx="343.2" cy="202.0" r="1.1" fill="#e6b13a"/>
<path d="M336.7 206.0H349.7M336.7 204.2V207.8M349.7 204.2V207.8M343.2 203.4V208.6M341.7 203.4h3M341.7 208.6h3" stroke="#e6b13a" stroke-width="1.1" fill="none" opacity="0.92"/>
<circle cx="343.2" cy="206.0" r="1.1" fill="#e6b13a"/>
<path d="M336.7 214.0H349.7M336.7 212.2V215.8M349.7 212.2V215.8M343.2 211.4V216.6M341.7 211.4h3M341.7 216.6h3" stroke="#e6b13a" stroke-width="1.1" fill="none" opacity="0.92"/>
<circle cx="343.2" cy="214.0" r="1.1" fill="#e6b13a"/>
<path d="M336.7 218.0H349.7M336.7 216.2V219.8M349.7 216.2V219.8M343.2 215.4V220.6M341.7 215.4h3M341.7 220.6h3" stroke="#e6b13a" stroke-width="1.1" fill="none" opacity="0.92"/>
<circle cx="343.2" cy="218.0" r="1.1" fill="#e6b13a"/>
<path d="M336.7 222.5H349.7M336.7 220.7V224.3M349.7 220.7V224.3M343.2 219.9V225.1M341.7 219.9h3M341.7 225.1h3" stroke="#e6b13a" stroke-width="1.1" fill="none" opacity="0.92"/>
<circle cx="343.2" cy="222.5" r="1.1" fill="#e6b13a"/>
<path d="M336.7 227.0H349.7M336.7 225.2V228.8M349.7 225.2V228.8M343.2 224.4V229.6M341.7 224.4h3M341.7 229.6h3" stroke="#e6b13a" stroke-width="1.1" fill="none" opacity="0.92"/>
<circle cx="343.2" cy="227.0" r="1.1" fill="#e6b13a"/>
<path d="M336.7 231.0H349.7M336.7 229.2V232.8M349.7 229.2V232.8M343.2 228.4V233.6M341.7 228.4h3M341.7 233.6h3" stroke="#e6b13a" stroke-width="1.1" fill="none" opacity="0.92"/>
<circle cx="343.2" cy="231.0" r="1.1" fill="#e6b13a"/>
<path d="M343.2 203.0H356.2M343.2 201.2V204.8M356.2 201.2V204.8M349.7 200.4V205.6M348.2 200.4h3M348.2 205.6h3" stroke="#e6b13a" stroke-width="1.1" fill="none" opacity="0.92"/>
<circle cx="349.7" cy="203.0" r="1.1" fill="#e6b13a"/>
<path d="M343.2 209.0H356.2M343.2 207.2V210.8M356.2 207.2V210.8M349.7 206.4V211.6M348.2 206.4h3M348.2 211.6h3" stroke="#e6b13a" stroke-width="1.1" fill="none" opacity="0.92"/>
<circle cx="349.7" cy="209.0" r="1.1" fill="#e6b13a"/>
<path d="M343.2 213.0H356.2M343.2 211.2V214.8M356.2 211.2V214.8M349.7 210.4V215.6M348.2 210.4h3M348.2 215.6h3" stroke="#e6b13a" stroke-width="1.1" fill="none" opacity="0.92"/>
<circle cx="349.7" cy="213.0" r="1.1" fill="#e6b13a"/>
<path d="M343.2 217.0H356.2M343.2 215.2V218.8M356.2 215.2V218.8M349.7 214.4V219.6M348.2 214.4h3M348.2 219.6h3" stroke="#e6b13a" stroke-width="1.1" fill="none" opacity="0.92"/>
<circle cx="349.7" cy="217.0" r="1.1" fill="#e6b13a"/>
<path d="M343.2 221.0H356.2M343.2 219.2V222.8M356.2 219.2V222.8M349.7 218.4V223.6M348.2 218.4h3M348.2 223.6h3" stroke="#e6b13a" stroke-width="1.1" fill="none" opacity="0.92"/>
<circle cx="349.7" cy="221.0" r="1.1" fill="#e6b13a"/>
<path d="M343.2 225.0H356.2M343.2 223.2V226.8M356.2 223.2V226.8M349.7 222.4V227.6M348.2 222.4h3M348.2 227.6h3" stroke="#e6b13a" stroke-width="1.1" fill="none" opacity="0.92"/>
<circle cx="349.7" cy="225.0" r="1.1" fill="#e6b13a"/>
<path d="M343.2 229.0H356.2M343.2 227.2V230.8M356.2 227.2V230.8M349.7 226.4V231.6M348.2 226.4h3M348.2 231.6h3" stroke="#e6b13a" stroke-width="1.1" fill="none" opacity="0.92"/>
<circle cx="349.7" cy="229.0" r="1.1" fill="#e6b13a"/>
<path d="M343.2 237.6H356.2M343.2 235.8V239.4M356.2 235.8V239.4M349.7 235.0V240.2M348.2 235.0h3M348.2 240.2h3" stroke="#e6b13a" stroke-width="1.1" fill="none" opacity="0.92"/>
<circle cx="349.7" cy="237.6" r="1.1" fill="#e6b13a"/>
<path d="M349.7 214.0H362.7M349.7 212.2V215.8M362.7 212.2V215.8M356.2 211.4V216.6M354.7 211.4h3M354.7 216.6h3" stroke="#e6b13a" stroke-width="1.1" fill="none" opacity="0.92"/>
<circle cx="356.2" cy="214.0" r="1.1" fill="#e6b13a"/>
<path d="M349.7 224.5H362.7M349.7 222.7V226.3M362.7 222.7V226.3M356.2 221.9V227.1M354.7 221.9h3M354.7 227.1h3" stroke="#e6b13a" stroke-width="1.1" fill="none" opacity="0.92"/>
<circle cx="356.2" cy="224.5" r="1.1" fill="#e6b13a"/>
<path d="M349.7 246.8H362.7M349.7 244.9V248.6M362.7 244.9V248.6M356.2 242.6V250.9M354.7 242.6h3M354.7 250.9h3" stroke="#e6b13a" stroke-width="1.1" fill="none" opacity="0.92"/>
<circle cx="356.2" cy="246.8" r="1.1" fill="#e6b13a"/>
<path d="M356.2 247.0H369.2M356.2 245.2V248.8M369.2 245.2V248.8M362.8 244.4V249.6M361.2 244.4h3M361.2 249.6h3" stroke="#e6b13a" stroke-width="1.1" fill="none" opacity="0.92"/>
<circle cx="362.8" cy="247.0" r="1.1" fill="#e6b13a"/>
<path d="M356.2 250.5H369.2M356.2 248.7V252.3M369.2 248.7V252.3M362.8 247.9V253.1M361.2 247.9h3M361.2 253.1h3" stroke="#e6b13a" stroke-width="1.1" fill="none" opacity="0.92"/>
<circle cx="362.8" cy="250.5" r="1.1" fill="#e6b13a"/>
<path d="M356.2 262.2H369.2M356.2 260.4V264.0M369.2 260.4V264.0M362.8 258.0V266.4M361.2 258.0h3M361.2 266.4h3" stroke="#e6b13a" stroke-width="1.1" fill="none" opacity="0.92"/>
<circle cx="362.8" cy="262.2" r="1.1" fill="#e6b13a"/>
<path d="M356.2 266.7H369.2M356.2 264.9V268.5M369.2 264.9V268.5M362.8 262.5V270.9M361.2 262.5h3M361.2 270.9h3" stroke="#e6b13a" stroke-width="1.1" fill="none" opacity="0.92"/>
<circle cx="362.8" cy="266.7" r="1.1" fill="#e6b13a"/>
<path d="M369.3 261.5H382.3M369.3 259.7V263.3M382.3 259.7V263.3M375.8 257.3V265.7M374.3 257.3h3M374.3 265.7h3" stroke="#e6b13a" stroke-width="1.1" fill="none" opacity="0.92"/>
<circle cx="375.8" cy="261.5" r="1.1" fill="#e6b13a"/>
</g>
<path d="M299.0 164.7 L302.9 168.1 L306.8 171.7 L310.8 175.4 L314.7 179.3 L318.6 183.3 L322.5 187.5 L326.5 191.9 L330.4 196.4 L334.3 201.1 L338.2 206.0 L342.2 211.1 L346.1 216.4 L350.0 221.9" stroke="#000" stroke-width="1.3" stroke-dasharray="2.6 1.8" fill="none"/>
<path d="M50.0 52.3 L55.5 54.8 L61.1 57.1 L66.6 59.3 L72.1 61.4 L77.6 63.5 L83.2 65.5 L88.7 67.5 L94.2 69.5 L99.7 71.4 L105.3 73.3 L110.8 75.3 L116.3 77.2 L121.8 79.2 L127.4 81.1 L132.9 83.1 L138.4 85.0 L143.9 87.0 L149.5 89.0 L155.0 91.0 L160.5 93.1 L166.0 95.1 L171.6 97.2 L177.1 99.3 L182.6 101.4 L188.1 103.5 L193.7 105.7 L199.2 107.9 L204.7 110.2 L210.2 112.5 L215.8 114.8 L221.3 117.3 L226.8 119.8 L232.3 122.4 L237.9 125.1 L243.4 127.9 L248.9 130.8 L254.4 133.9 L260.0 137.1 L265.5 140.6 L271.0 144.2 L276.5 148.0 L282.1 152.0 L287.6 156.3 L293.1 160.8 L298.6 165.7 L304.2 170.8 L309.7 176.2 L315.2 182.0 L320.7 188.1 L326.3 194.6 L331.8 201.5 L337.3 208.8 L342.8 216.4 L348.4 224.5 L353.9 233.1 L359.4 242.0 L364.9 251.4 L370.5 261.3 L376.0 271.6" stroke="#000" stroke-width="2.0" fill="none" stroke-linejoin="round"/>
<rect x="37.0" y="0" width="352.79999999999995" height="1.6" fill="#b0b0b0"/>
<path d="M37.6 0V301.0H389.2V0" fill="none" stroke="#888888" stroke-width="1.2"/>
<path d="M50.61 0.5v3.1M50.61 301.0v-3.0M63.62 0.5v3.1M63.62 301.0v-3.0M76.63 0.5v3.1M76.63 301.0v-3.0M89.64 0.5v3.1M89.64 301.0v-3.0M102.65 0.5v5.1M102.65 301.0v-5.0M115.66 0.5v3.1M115.66 301.0v-3.0M128.67 0.5v3.1M128.67 301.0v-3.0M141.68 0.5v3.1M141.68 301.0v-3.0M154.69 0.5v3.1M154.69 301.0v-3.0M167.70 0.5v5.1M167.70 301.0v-5.0M180.71 0.5v3.1M180.71 301.0v-3.0M193.72 0.5v3.1M193.72 301.0v-3.0M206.73 0.5v3.1M206.73 301.0v-3.0M219.74 0.5v3.1M219.74 301.0v-3.0M232.75 0.5v5.1M232.75 301.0v-5.0M245.76 0.5v3.1M245.76 301.0v-3.0M258.77 0.5v3.1M258.77 301.0v-3.0M271.78 0.5v3.1M271.78 301.0v-3.0M284.79 0.5v3.1M284.79 301.0v-3.0M297.80 0.5v5.1M297.80 301.0v-5.0M310.81 0.5v3.1M310.81 301.0v-3.0M323.82 0.5v3.1M323.82 301.0v-3.0M336.83 0.5v3.1M336.83 301.0v-3.0M349.84 0.5v3.1M349.84 301.0v-3.0M362.85 0.5v5.1M362.85 301.0v-5.0M375.86 0.5v3.1M375.86 301.0v-3.0M37.6 12.12h2.6M389.2 12.12h-2.6M37.6 23.25h5.2M389.2 23.25h-5.2M37.6 34.38h2.6M389.2 34.38h-2.6M37.6 45.52h2.6M389.2 45.52h-2.6M37.6 56.66h2.6M389.2 56.66h-2.6M37.6 67.79h5.2M389.2 67.79h-5.2M37.6 78.92h2.6M389.2 78.92h-2.6M37.6 90.06h2.6M389.2 90.06h-2.6M37.6 101.19h2.6M389.2 101.19h-2.6M37.6 112.33h5.2M389.2 112.33h-5.2M37.6 123.47h2.6M389.2 123.47h-2.6M37.6 134.60h2.6M389.2 134.60h-2.6M37.6 145.74h2.6M389.2 145.74h-2.6M37.6 156.87h5.2M389.2 156.87h-5.2M37.6 168.00h2.6M389.2 168.00h-2.6M37.6 179.14h2.6M389.2 179.14h-2.6M37.6 190.28h2.6M389.2 190.28h-2.6M37.6 201.41h5.2M389.2 201.41h-5.2M37.6 212.54h2.6M389.2 212.54h-2.6M37.6 223.68h2.6M389.2 223.68h-2.6M37.6 234.81h2.6M389.2 234.81h-2.6M37.6 245.95h5.2M389.2 245.95h-5.2M37.6 257.09h2.6M389.2 257.09h-2.6M37.6 268.22h2.6M389.2 268.22h-2.6M37.6 279.36h2.6M389.2 279.36h-2.6M37.6 290.49h5.2M389.2 290.49h-5.2" stroke="#888888" stroke-width="1" fill="none"/>
<text x="37.6" y="314.8" font-size="14" text-anchor="middle" fill="#000" stroke="#000" stroke-width="0.2">M5</text>
<text x="102.7" y="314.8" font-size="14" text-anchor="middle" fill="#000" stroke="#000" stroke-width="0.2">L0</text>
<text x="167.7" y="314.8" font-size="14" text-anchor="middle" fill="#000" stroke="#000" stroke-width="0.2">L5</text>
<text x="232.8" y="314.8" font-size="14" text-anchor="middle" fill="#000" stroke="#000" stroke-width="0.2">T0</text>
<text x="297.8" y="314.8" font-size="14" text-anchor="middle" fill="#000" stroke="#000" stroke-width="0.2">T5</text>
<text x="362.9" y="314.8" font-size="14" text-anchor="middle" fill="#000" stroke="#000" stroke-width="0.2">Y0</text>
<text x="212.2" y="332.4" font-size="17.5" text-anchor="middle" fill="#000" stroke="#000" stroke-width="0.2">Spectral Type</text>
<text x="231.8" y="38.3" font-size="17.4" text-anchor="middle" fill="#000" stroke="#000" stroke-width="0.2">WISE band 1</text>
<rect x="329.5" y="20.8" width="35.5" height="20.7" fill="#c0c0c0" stroke="#9c9c9c" stroke-width="1"/>
<text x="347.2" y="35.4" font-size="17.3" text-anchor="middle" fill="#000" stroke="#000" stroke-width="0.2">0.38</text>
<rect x="52.2" y="272.4" width="35.6" height="20.1" fill="#c27ba3" stroke="#96607e" stroke-width="1"/>
<text x="70.0" y="287.0" font-size="17.3" text-anchor="middle" fill="#000" stroke="#000" stroke-width="0.2">0.20</text>
<rect x="110.8" y="272.4" width="35.7" height="20.1" fill="#8e9cc9" stroke="#6c7aa4" stroke-width="1"/>
<text x="128.7" y="287.0" font-size="17.3" text-anchor="middle" fill="#000" stroke="#000" stroke-width="0.2">0.15</text>
<rect x="169.5" y="272.4" width="35.2" height="20.1" fill="#9ac4ea" stroke="#74a0c8" stroke-width="1"/>
<text x="187.1" y="287.0" font-size="17.3" text-anchor="middle" fill="#000" stroke="#000" stroke-width="0.2">0.33</text>
<rect x="227.6" y="272.4" width="36.2" height="20.1" fill="#bfd796" stroke="#98b272" stroke-width="1"/>
<text x="245.7" y="287.0" font-size="17.3" text-anchor="middle" fill="#000" stroke="#000" stroke-width="0.2">0.31</text>
<rect x="286.3" y="272.4" width="36.2" height="20.1" fill="#f5d9a1" stroke="#c4aa76" stroke-width="1"/>
<text x="304.4" y="287.0" font-size="17.3" text-anchor="middle" fill="#000" stroke="#000" stroke-width="0.2">0.47</text>
<g id="pts1">
<path d="M413.3 49.0H426.3M413.3 47.2V50.8M426.3 47.2V50.8M419.8 47.8V50.2" stroke="#8a1a5e" stroke-width="1.1" fill="none" opacity="0.92"/>
<circle cx="419.8" cy="49.0" r="1.6" fill="#8a1a5e"/>
<path d="M426.3 54.2H439.3M426.3 52.5V56.0M439.3 52.5V56.0M432.8 53.0V55.5" stroke="#8a1a5e" stroke-width="1.1" fill="none" opacity="0.92"/>
<circle cx="432.8" cy="54.2" r="1.6" fill="#8a1a5e"/>
<path d="M426.3 56.0H439.3M426.3 54.2V57.8M439.3 54.2V57.8M432.8 54.8V57.2" stroke="#8a1a5e" stroke-width="1.1" fill="none" opacity="0.92"/>
<circle cx="432.8" cy="56.0" r="1.6" fill="#8a1a5e"/>
<path d="M432.8 49.9H445.8M432.8 48.1V51.7M445.8 48.1V51.7M439.3 48.7V51.1" stroke="#8a1a5e" stroke-width="1.1" fill="none" opacity="0.92"/>
<circle cx="439.3" cy="49.9" r="1.6" fill="#8a1a5e"/>
<path d="M432.8 52.4H445.8M432.8 50.6V54.2M445.8 50.6V54.2M439.3 51.2V53.6" stroke="#8a1a5e" stroke-width="1.1" fill="none" opacity="0.92"/>
<circle cx="439.3" cy="52.4" r="1.6" fill="#8a1a5e"/>
<path d="M439.3 44.9H452.3M439.3 43.1V46.7M452.3 43.1V46.7M445.8 43.7V46.1" stroke="#8a1a5e" stroke-width="1.1" fill="none" opacity="0.92"/>
<circle cx="445.8" cy="44.9" r="1.6" fill="#8a1a5e"/>
<path d="M439.3 53.0H452.3M439.3 51.2V54.8M452.3 51.2V54.8M445.8 51.8V54.2" stroke="#8a1a5e" stroke-width="1.1" fill="none" opacity="0.92"/>
<circle cx="445.8" cy="53.0" r="1.6" fill="#8a1a5e"/>
<path d="M439.3 54.5H452.3M439.3 52.7V56.3M452.3 52.7V56.3M445.8 53.3V55.7" stroke="#8a1a5e" stroke-width="1.1" fill="none" opacity="0.92"/>
<circle cx="445.8" cy="54.5" r="1.6" fill="#8a1a5e"/>
<path d="M445.8 65.2H458.8M445.8 63.5V67.0M458.8 63.5V67.0M452.3 64.0V66.5" stroke="#8a1a5e" stroke-width="1.1" fill="none" opacity="0.92"/>
<circle cx="452.3" cy="65.2" r="1.6" fill="#8a1a5e"/>
<path d="M452.3 60.5H465.3M452.3 58.7V62.3M465.3 58.7V62.3M458.8 59.3V61.7" stroke="#8a1a5e" stroke-width="1.1" fill="none" opacity="0.92"/>
<circle cx="458.8" cy="60.5" r="1.6" fill="#8a1a5e"/>
<path d="M452.3 68.0H465.3M452.3 66.2V69.8M465.3 66.2V69.8M458.8 66.8V69.2" stroke="#8a1a5e" stroke-width="1.1" fill="none" opacity="0.92"/>
<circle cx="458.8" cy="68.0" r="1.6" fill="#8a1a5e"/>
<path d="M458.8 54.6H471.8M458.8 52.8V56.4M471.8 52.8V56.4M465.3 53.4V55.8" stroke="#8a1a5e" stroke-width="1.1" fill="none" opacity="0.92"/>
<circle cx="465.3" cy="54.6" r="1.6" fill="#8a1a5e"/>
<path d="M458.8 62.0H471.8M458.8 60.2V63.8M471.8 60.2V63.8M465.3 60.8V63.2" stroke="#8a1a5e" stroke-width="1.1" fill="none" opacity="0.92"/>
<circle cx="465.3" cy="62.0" r="1.6" fill="#8a1a5e"/>
<path d="M458.8 67.8H471.8M458.8 66.0V69.5M471.8 66.0V69.5M465.3 66.5V69.0" stroke="#8a1a5e" stroke-width="1.1" fill="none" opacity="0.92"/>
<circle cx="465.3" cy="67.8" r="1.6" fill="#8a1a5e"/>
<path d="M458.9 61.5H484.9M458.9 59.7V63.3M484.9 59.7V63.3M471.9 60.3V62.7" stroke="#8a1a5e" stroke-width="1.1" fill="none" opacity="0.92"/>
<circle cx="471.9" cy="61.5" r="1.6" fill="#8a1a5e"/>
<path d="M465.4 64.0H478.4M465.4 62.2V65.8M478.4 62.2V65.8M471.9 62.8V65.2" stroke="#8a1a5e" stroke-width="1.1" fill="none" opacity="0.92"/>
<circle cx="471.9" cy="64.0" r="1.6" fill="#8a1a5e"/>
<path d="M465.4 68.0H478.4M465.4 66.2V69.8M478.4 66.2V69.8M471.9 66.8V69.2" stroke="#8a1a5e" stroke-width="1.1" fill="none" opacity="0.92"/>
<circle cx="471.9" cy="68.0" r="1.6" fill="#8a1a5e"/>
<path d="M471.9 66.5H484.9M471.9 64.7V68.3M484.9 64.7V68.3M478.4 65.3V67.7" stroke="#2c4a9c" stroke-width="1.1" fill="none" opacity="0.92"/>
<circle cx="478.4" cy="66.5" r="1.6" fill="#2c4a9c"/>
<path d="M471.9 68.5H484.9M471.9 66.7V70.3M484.9 66.7V70.3M478.4 67.3V69.7" stroke="#2c4a9c" stroke-width="1.1" fill="none" opacity="0.92"/>
<circle cx="478.4" cy="68.5" r="1.6" fill="#2c4a9c"/>
<path d="M465.4 75.8H491.4M465.4 74.0V77.5M491.4 74.0V77.5M478.4 74.5V77.0" stroke="#2c4a9c" stroke-width="1.1" fill="none" opacity="0.92"/>
<circle cx="478.4" cy="75.8" r="1.6" fill="#2c4a9c"/>
<path d="M478.4 68.2H491.4M478.4 66.5V70.0M491.4 66.5V70.0M484.9 67.0V69.5" stroke="#2c4a9c" stroke-width="1.1" fill="none" opacity="0.92"/>
<circle cx="484.9" cy="68.2" r="1.6" fill="#2c4a9c"/>
<path d="M478.4 70.0H491.4M478.4 68.2V71.8M491.4 68.2V71.8M484.9 68.8V71.2" stroke="#2c4a9c" stroke-width="1.1" fill="none" opacity="0.92"/>
<circle cx="484.9" cy="70.0" r="1.6" fill="#2c4a9c"/>
<path d="M478.4 72.0H491.4M478.4 70.2V73.8M491.4 70.2V73.8M484.9 70.8V73.2" stroke="#2c4a9c" stroke-width="1.1" fill="none" opacity="0.92"/>
<circle cx="484.9" cy="72.0" r="1.6" fill="#2c4a9c"/>
<path d="M478.4 74.5H491.4M478.4 72.7V76.3M491.4 72.7V76.3M484.9 73.3V75.7" stroke="#2c4a9c" stroke-width="1.1" fill="none" opacity="0.92"/>
<circle cx="484.9" cy="74.5" r="1.6" fill="#2c4a9c"/>
<path d="M471.9 78.2H497.9M471.9 76.5V80.0M497.9 76.5V80.0M484.9 77.0V79.5" stroke="#2c4a9c" stroke-width="1.1" fill="none" opacity="0.92"/>
<circle cx="484.9" cy="78.2" r="1.6" fill="#2c4a9c"/>
<path d="M484.9 69.0H497.9M484.9 67.2V70.8M497.9 67.2V70.8M491.4 67.8V70.2" stroke="#2c4a9c" stroke-width="1.1" fill="none" opacity="0.92"/>
<circle cx="491.4" cy="69.0" r="1.6" fill="#2c4a9c"/>
<path d="M484.9 71.0H497.9M484.9 69.2V72.8M497.9 69.2V72.8M491.4 69.8V72.2" stroke="#2c4a9c" stroke-width="1.1" fill="none" opacity="0.92"/>
<circle cx="491.4" cy="71.0" r="1.6" fill="#2c4a9c"/>
<path d="M484.9 73.0H497.9M484.9 71.2V74.8M497.9 71.2V74.8M491.4 71.8V74.2" stroke="#2c4a9c" stroke-width="1.1" fill="none" opacity="0.92"/>
<circle cx="491.4" cy="73.0" r="1.6" fill="#2c4a9c"/>
<path d="M484.9 75.5H497.9M484.9 73.7V77.3M497.9 73.7V77.3M491.4 74.3V76.7" stroke="#2c4a9c" stroke-width="1.1" fill="none" opacity="0.92"/>
<circle cx="491.4" cy="75.5" r="1.6" fill="#2c4a9c"/>
<path d="M484.9 79.0H497.9M484.9 77.2V80.8M497.9 77.2V80.8M491.4 77.8V80.2" stroke="#2c4a9c" stroke-width="1.1" fill="none" opacity="0.92"/>
<circle cx="491.4" cy="79.0" r="1.6" fill="#2c4a9c"/>
<path d="M491.4 69.5H504.4M491.4 67.7V71.3M504.4 67.7V71.3M497.9 68.3V70.7" stroke="#2c4a9c" stroke-width="1.1" fill="none" opacity="0.92"/>
<circle cx="497.9" cy="69.5" r="1.6" fill="#2c4a9c"/>
<path d="M491.4 72.0H504.4M491.4 70.2V73.8M504.4 70.2V73.8M497.9 70.8V73.2" stroke="#2c4a9c" stroke-width="1.1" fill="none" opacity="0.92"/>
<circle cx="497.9" cy="72.0" r="1.6" fill="#2c4a9c"/>
<path d="M491.4 74.5H504.4M491.4 72.7V76.3M504.4 72.7V76.3M497.9 73.3V75.7" stroke="#2c4a9c" stroke-width="1.1" fill="none" opacity="0.92"/>
<circle cx="497.9" cy="74.5" r="1.6" fill="#2c4a9c"/>
<path d="M491.4 76.5H504.4M491.4 74.7V78.3M504.4 74.7V78.3M497.9 75.3V77.7" stroke="#2c4a9c" stroke-width="1.1" fill="none" opacity="0.92"/>
<circle cx="497.9" cy="76.5" r="1.6" fill="#2c4a9c"/>
<path d="M491.4 79.5H504.4M491.4 77.7V81.3M504.4 77.7V81.3M497.9 78.3V80.7" stroke="#2c4a9c" stroke-width="1.1" fill="none" opacity="0.92"/>
<circle cx="497.9" cy="79.5" r="1.6" fill="#2c4a9c"/>
<path d="M497.9 72.0H510.9M497.9 70.2V73.8M510.9 70.2V73.8M504.4 70.8V73.2" stroke="#2c4a9c" stroke-width="1.1" fill="none" opacity="0.92"/>
<circle cx="504.4" cy="72.0" r="1.6" fill="#2c4a9c"/>
<path d="M497.9 74.0H510.9M497.9 72.2V75.8M510.9 72.2V75.8M504.4 72.8V75.2" stroke="#2c4a9c" stroke-width="1.1" fill="none" opacity="0.92"/>
<circle cx="504.4" cy="74.0" r="1.6" fill="#2c4a9c"/>
<path d="M497.9 76.0H510.9M497.9 74.2V77.8M510.9 74.2V77.8M504.4 74.8V77.2" stroke="#2c4a9c" stroke-width="1.1" fill="none" opacity="0.92"/>
<circle cx="504.4" cy="76.0" r="1.6" fill="#2c4a9c"/>
<path d="M497.9 78.0H510.9M497.9 76.2V79.8M510.9 76.2V79.8M504.4 76.8V79.2" stroke="#2c4a9c" stroke-width="1.1" fill="none" opacity="0.92"/>
<circle cx="504.4" cy="78.0" r="1.6" fill="#2c4a9c"/>
<path d="M497.9 81.0H510.9M497.9 79.2V82.8M510.9 79.2V82.8M504.4 79.8V82.2" stroke="#2c4a9c" stroke-width="1.1" fill="none" opacity="0.92"/>
<circle cx="504.4" cy="81.0" r="1.6" fill="#2c4a9c"/>
<path d="M497.9 85.5H510.9M497.9 83.7V87.3M510.9 83.7V87.3M504.4 84.3V86.7" stroke="#2c4a9c" stroke-width="1.1" fill="none" opacity="0.92"/>
<circle cx="504.4" cy="85.5" r="1.6" fill="#2c4a9c"/>
<path d="M504.4 73.0H517.4M504.4 71.2V74.8M517.4 71.2V74.8M510.9 71.8V74.2" stroke="#2c4a9c" stroke-width="1.1" fill="none" opacity="0.92"/>
<circle cx="510.9" cy="73.0" r="1.6" fill="#2c4a9c"/>
<path d="M504.4 75.5H517.4M504.4 73.7V77.3M517.4 73.7V77.3M510.9 74.3V76.7" stroke="#2c4a9c" stroke-width="1.1" fill="none" opacity="0.92"/>
<circle cx="510.9" cy="75.5" r="1.6" fill="#2c4a9c"/>
<path d="M504.4 77.5H517.4M504.4 75.7V79.3M517.4 75.7V79.3M510.9 76.3V78.7" stroke="#2c4a9c" stroke-width="1.1" fill="none" opacity="0.92"/>
<circle cx="510.9" cy="77.5" r="1.6" fill="#2c4a9c"/>
<path d="M504.4 80.0H517.4M504.4 78.2V81.8M517.4 78.2V81.8M510.9 78.8V81.2" stroke="#2c4a9c" stroke-width="1.1" fill="none" opacity="0.92"/>
<circle cx="510.9" cy="80.0" r="1.6" fill="#2c4a9c"/>
<path d="M504.4 82.5H517.4M504.4 80.7V84.3M517.4 80.7V84.3M510.9 81.3V83.7" stroke="#2c4a9c" stroke-width="1.1" fill="none" opacity="0.92"/>
<circle cx="510.9" cy="82.5" r="1.6" fill="#2c4a9c"/>
<path d="M504.4 85.8H517.4M504.4 84.0V87.5M517.4 84.0V87.5M510.9 84.5V87.0" stroke="#2c4a9c" stroke-width="1.1" fill="none" opacity="0.92"/>
<circle cx="510.9" cy="85.8" r="1.6" fill="#2c4a9c"/>
<path d="M510.9 76.0H523.9M510.9 74.2V77.8M523.9 74.2V77.8M517.4 74.8V77.2" stroke="#2c4a9c" stroke-width="1.1" fill="none" opacity="0.92"/>
<circle cx="517.4" cy="76.0" r="1.6" fill="#2c4a9c"/>
<path d="M510.9 78.5H523.9M510.9 76.7V80.3M523.9 76.7V80.3M517.4 77.3V79.7" stroke="#2c4a9c" stroke-width="1.1" fill="none" opacity="0.92"/>
<circle cx="517.4" cy="78.5" r="1.6" fill="#2c4a9c"/>
<path d="M510.9 81.0H523.9M510.9 79.2V82.8M523.9 79.2V82.8M517.4 79.8V82.2" stroke="#2c4a9c" stroke-width="1.1" fill="none" opacity="0.92"/>
<circle cx="517.4" cy="81.0" r="1.6" fill="#2c4a9c"/>
<path d="M510.9 83.0H523.9M510.9 81.2V84.8M523.9 81.2V84.8M517.4 81.8V84.2" stroke="#2c4a9c" stroke-width="1.1" fill="none" opacity="0.92"/>
<circle cx="517.4" cy="83.0" r="1.6" fill="#2c4a9c"/>
<path d="M510.9 85.8H523.9M510.9 84.0V87.5M523.9 84.0V87.5M517.4 84.5V87.0" stroke="#2c4a9c" stroke-width="1.1" fill="none" opacity="0.92"/>
<circle cx="517.4" cy="85.8" r="1.6" fill="#2c4a9c"/>
<path d="M510.9 74.5H536.9M510.9 72.7V76.3M536.9 72.7V76.3M523.9 73.3V75.7" stroke="#2c4a9c" stroke-width="1.1" fill="none" opacity="0.92"/>
<circle cx="523.9" cy="74.5" r="1.6" fill="#2c4a9c"/>
<path d="M517.4 78.0H530.4M517.4 76.2V79.8M530.4 76.2V79.8M523.9 76.8V79.2" stroke="#2c4a9c" stroke-width="1.1" fill="none" opacity="0.92"/>
<circle cx="523.9" cy="78.0" r="1.6" fill="#2c4a9c"/>
<path d="M517.4 81.0H530.4M517.4 79.2V82.8M530.4 79.2V82.8M523.9 79.8V82.2" stroke="#2c4a9c" stroke-width="1.1" fill="none" opacity="0.92"/>
<circle cx="523.9" cy="81.0" r="1.6" fill="#2c4a9c"/>
<path d="M517.4 83.5H530.4M517.4 81.7V85.3M530.4 81.7V85.3M523.9 82.3V84.7" stroke="#2c4a9c" stroke-width="1.1" fill="none" opacity="0.92"/>
<circle cx="523.9" cy="83.5" r="1.6" fill="#2c4a9c"/>
<path d="M517.4 86.0H530.4M517.4 84.2V87.8M530.4 84.2V87.8M523.9 84.8V87.2" stroke="#2c4a9c" stroke-width="1.1" fill="none" opacity="0.92"/>
<circle cx="523.9" cy="86.0" r="1.6" fill="#2c4a9c"/>
<path d="M523.9 79.0H536.9M523.9 77.2V80.8M536.9 77.2V80.8M530.4 77.8V80.2" stroke="#2c4a9c" stroke-width="1.1" fill="none" opacity="0.92"/>
<circle cx="530.4" cy="79.0" r="1.6" fill="#2c4a9c"/>
<path d="M523.9 82.0H536.9M523.9 80.2V83.8M536.9 80.2V83.8M530.4 80.8V83.2" stroke="#2c4a9c" stroke-width="1.1" fill="none" opacity="0.92"/>
<circle cx="530.4" cy="82.0" r="1.6" fill="#2c4a9c"/>
<path d="M523.9 85.0H536.9M523.9 83.2V86.8M536.9 83.2V86.8M530.4 83.8V86.2" stroke="#2c4a9c" stroke-width="1.1" fill="none" opacity="0.92"/>
<circle cx="530.4" cy="85.0" r="1.6" fill="#2c4a9c"/>
<path d="M523.9 88.0H536.9M523.9 86.2V89.8M536.9 86.2V89.8M530.4 86.8V89.2" stroke="#2c4a9c" stroke-width="1.1" fill="none" opacity="0.92"/>
<circle cx="530.4" cy="88.0" r="1.6" fill="#2c4a9c"/>
<path d="M530.5 79.8H543.5M530.5 78.0V81.5M543.5 78.0V81.5M537.0 78.3V81.2" stroke="#2f7fd2" stroke-width="1.1" fill="none" opacity="0.92"/>
<circle cx="537.0" cy="79.8" r="1.6" fill="#2f7fd2"/>
<path d="M530.5 84.5H543.5M530.5 82.7V86.3M543.5 82.7V86.3M537.0 83.1V85.9" stroke="#2f7fd2" stroke-width="1.1" fill="none" opacity="0.92"/>
<circle cx="537.0" cy="84.5" r="1.6" fill="#2f7fd2"/>
<path d="M524.0 92.6H550.0M524.0 90.8V94.4M550.0 90.8V94.4M537.0 91.2V94.0" stroke="#2f7fd2" stroke-width="1.1" fill="none" opacity="0.92"/>
<circle cx="537.0" cy="92.6" r="1.6" fill="#2f7fd2"/>
<path d="M530.5 94.2H543.5M530.5 92.5V96.0M543.5 92.5V96.0M537.0 92.8V95.7" stroke="#2f7fd2" stroke-width="1.1" fill="none" opacity="0.92"/>
<circle cx="537.0" cy="94.2" r="1.6" fill="#2f7fd2"/>
<path d="M524.0 103.9H550.0M524.0 102.1V105.7M550.0 102.1V105.7M537.0 102.5V105.3" stroke="#2f7fd2" stroke-width="1.1" fill="none" opacity="0.92"/>
<circle cx="537.0" cy="103.9" r="1.6" fill="#2f7fd2"/>
<path d="M543.5 84.2H556.5M543.5 82.5V86.0M556.5 82.5V86.0M550.0 82.8V85.7" stroke="#2f7fd2" stroke-width="1.1" fill="none" opacity="0.92"/>
<circle cx="550.0" cy="84.2" r="1.6" fill="#2f7fd2"/>
<path d="M543.5 97.6H556.5M543.5 95.8V99.4M556.5 95.8V99.4M550.0 96.2V99.0" stroke="#2f7fd2" stroke-width="1.1" fill="none" opacity="0.92"/>
<circle cx="550.0" cy="97.6" r="1.6" fill="#2f7fd2"/>
<path d="M543.5 99.5H556.5M543.5 97.7V101.3M556.5 97.7V101.3M550.0 98.1V100.9" stroke="#2f7fd2" stroke-width="1.1" fill="none" opacity="0.92"/>
<circle cx="550.0" cy="99.5" r="1.6" fill="#2f7fd2"/>
<path d="M556.5 84.5H569.5M556.5 82.7V86.3M569.5 82.7V86.3M563.0 80.3V88.7M561.5 80.3h3M561.5 88.7h3" stroke="#2f7fd2" stroke-width="1.1" fill="none" opacity="0.92"/>
<circle cx="563.0" cy="84.5" r="1.6" fill="#2f7fd2"/>
<path d="M556.5 95.0H569.5M556.5 93.2V96.8M569.5 93.2V96.8M563.0 93.6V96.4" stroke="#2f7fd2" stroke-width="1.1" fill="none" opacity="0.92"/>
<circle cx="563.0" cy="95.0" r="1.6" fill="#2f7fd2"/>
<path d="M556.5 101.4H569.5M556.5 99.6V103.2M569.5 99.6V103.2M563.0 100.0V102.8" stroke="#2f7fd2" stroke-width="1.1" fill="none" opacity="0.92"/>
<circle cx="563.0" cy="101.4" r="1.6" fill="#2f7fd2"/>
<path d="M556.5 105.0H569.5M556.5 103.2V106.8M569.5 103.2V106.8M563.0 103.6V106.4" stroke="#2f7fd2" stroke-width="1.1" fill="none" opacity="0.92"/>
<circle cx="563.0" cy="105.0" r="1.6" fill="#2f7fd2"/>
<path d="M563.0 85.8H589.0M563.0 84.0V87.6M589.0 84.0V87.6M576.0 84.4V87.2" stroke="#2f7fd2" stroke-width="1.1" fill="none" opacity="0.92"/>
<circle cx="576.0" cy="85.8" r="1.6" fill="#2f7fd2"/>
<path d="M563.0 89.8H589.0M563.0 88.0V91.6M589.0 88.0V91.6M576.0 88.4V91.2" stroke="#2f7fd2" stroke-width="1.1" fill="none" opacity="0.92"/>
<circle cx="576.0" cy="89.8" r="1.6" fill="#2f7fd2"/>
<path d="M569.5 96.5H582.5M569.5 94.7V98.3M582.5 94.7V98.3M576.0 95.1V97.9" stroke="#2f7fd2" stroke-width="1.1" fill="none" opacity="0.92"/>
<circle cx="576.0" cy="96.5" r="1.6" fill="#2f7fd2"/>
<path d="M569.5 105.9H582.5M569.5 104.1V107.7M582.5 104.1V107.7M576.0 104.5V107.3" stroke="#2f7fd2" stroke-width="1.1" fill="none" opacity="0.92"/>
<circle cx="576.0" cy="105.9" r="1.6" fill="#2f7fd2"/>
<path d="M569.5 107.5H582.5M569.5 105.7V109.3M582.5 105.7V109.3M576.0 106.1V108.9" stroke="#2f7fd2" stroke-width="1.1" fill="none" opacity="0.92"/>
<circle cx="576.0" cy="107.5" r="1.6" fill="#2f7fd2"/>
<path d="M563.0 116.8H589.0M563.0 115.0V118.5M589.0 115.0V118.5M576.0 115.3V118.2" stroke="#2f7fd2" stroke-width="1.1" fill="none" opacity="0.92"/>
<circle cx="576.0" cy="116.8" r="1.6" fill="#2f7fd2"/>
<path d="M582.5 99.6H595.5M582.5 97.8V101.4M595.5 97.8V101.4M589.0 97.1V102.1M587.5 97.1h3M587.5 102.1h3" stroke="#8db32d" stroke-width="1.1" fill="none" opacity="0.92"/>
<circle cx="589.0" cy="99.6" r="1.1" fill="#8db32d"/>
<path d="M582.5 109.6H595.5M582.5 107.8V111.4M595.5 107.8V111.4M589.0 107.1V112.1M587.5 107.1h3M587.5 112.1h3" stroke="#8db32d" stroke-width="1.1" fill="none" opacity="0.92"/>
<circle cx="589.0" cy="109.6" r="1.1" fill="#8db32d"/>
<path d="M582.5 111.5H595.5M582.5 109.7V113.3M595.5 109.7V113.3M589.0 109.0V114.0M587.5 109.0h3M587.5 114.0h3" stroke="#8db32d" stroke-width="1.1" fill="none" opacity="0.92"/>
<circle cx="589.0" cy="111.5" r="1.1" fill="#8db32d"/>
<path d="M582.5 116.8H595.5M582.5 115.0V118.5M595.5 115.0V118.5M589.0 114.2V119.2M587.5 114.2h3M587.5 119.2h3" stroke="#8db32d" stroke-width="1.1" fill="none" opacity="0.92"/>
<circle cx="589.0" cy="116.8" r="1.1" fill="#8db32d"/>
<path d="M589.0 96.5H602.0M589.0 94.7V98.3M602.0 94.7V98.3M595.5 92.3V100.7M594.0 92.3h3M594.0 100.7h3" stroke="#8db32d" stroke-width="1.1" fill="none" opacity="0.92"/>
<circle cx="595.5" cy="96.5" r="1.1" fill="#8db32d"/>
<path d="M589.0 112.0H602.0M589.0 110.2V113.8M602.0 110.2V113.8M595.5 109.5V114.5M594.0 109.5h3M594.0 114.5h3" stroke="#8db32d" stroke-width="1.1" fill="none" opacity="0.92"/>
<circle cx="595.5" cy="112.0" r="1.1" fill="#8db32d"/>
<path d="M595.5 105.9H608.5M595.5 104.1V107.7M608.5 104.1V107.7M602.0 103.4V108.4M600.5 103.4h3M600.5 108.4h3" stroke="#8db32d" stroke-width="1.1" fill="none" opacity="0.92"/>
<circle cx="602.0" cy="105.9" r="1.1" fill="#8db32d"/>
<path d="M595.5 117.8H608.5M595.5 116.0V119.5M608.5 116.0V119.5M602.0 115.2V120.2M600.5 115.2h3M600.5 120.2h3" stroke="#8db32d" stroke-width="1.1" fill="none" opacity="0.92"/>
<circle cx="602.0" cy="117.8" r="1.1" fill="#8db32d"/>
<path d="M595.5 104.0H608.5M595.5 102.2V105.8M608.5 102.2V105.8M602.0 101.5V106.5M600.5 101.5h3M600.5 106.5h3" stroke="#8db32d" stroke-width="1.1" fill="none" opacity="0.92"/>
<circle cx="602.0" cy="104.0" r="1.1" fill="#8db32d"/>
<path d="M602.1 107.0H615.1M602.1 105.2V108.8M615.1 105.2V108.8M608.6 104.5V109.5M607.1 104.5h3M607.1 109.5h3" stroke="#8db32d" stroke-width="1.1" fill="none" opacity="0.92"/>
<circle cx="608.6" cy="107.0" r="1.1" fill="#8db32d"/>
<path d="M602.1 103.0H615.1M602.1 101.2V104.8M615.1 101.2V104.8M608.6 100.5V105.5M607.1 100.5h3M607.1 105.5h3" stroke="#8db32d" stroke-width="1.1" fill="none" opacity="0.92"/>
<circle cx="608.6" cy="103.0" r="1.1" fill="#8db32d"/>
<path d="M608.6 104.0H621.6M608.6 102.2V105.8M621.6 102.2V105.8M615.1 99.8V108.2M613.6 99.8h3M613.6 108.2h3" stroke="#8db32d" stroke-width="1.1" fill="none" opacity="0.92"/>
<circle cx="615.1" cy="104.0" r="1.1" fill="#8db32d"/>
<path d="M608.6 119.6H621.6M608.6 117.8V121.4M621.6 117.8V121.4M615.1 117.1V122.1M613.6 117.1h3M613.6 122.1h3" stroke="#8db32d" stroke-width="1.1" fill="none" opacity="0.92"/>
<circle cx="615.1" cy="119.6" r="1.1" fill="#8db32d"/>
<path d="M608.6 117.5H621.6M608.6 115.7V119.3M621.6 115.7V119.3M615.1 115.0V120.0M613.6 115.0h3M613.6 120.0h3" stroke="#8db32d" stroke-width="1.1" fill="none" opacity="0.92"/>
<circle cx="615.1" cy="117.5" r="1.1" fill="#8db32d"/>
<path d="M615.1 117.8H628.1M615.1 116.0V119.5M628.1 116.0V119.5M621.6 115.2V120.2M620.1 115.2h3M620.1 120.2h3" stroke="#8db32d" stroke-width="1.1" fill="none" opacity="0.92"/>
<circle cx="621.6" cy="117.8" r="1.1" fill="#8db32d"/>
<path d="M615.1 116.0H628.1M615.1 114.2V117.8M628.1 114.2V117.8M621.6 113.5V118.5M620.1 113.5h3M620.1 118.5h3" stroke="#8db32d" stroke-width="1.1" fill="none" opacity="0.92"/>
<circle cx="621.6" cy="116.0" r="1.1" fill="#8db32d"/>
<path d="M621.6 107.0H634.6M621.6 105.2V108.8M634.6 105.2V108.8M628.1 104.5V109.5M626.6 104.5h3M626.6 109.5h3" stroke="#8db32d" stroke-width="1.1" fill="none" opacity="0.92"/>
<circle cx="628.1" cy="107.0" r="1.1" fill="#8db32d"/>
<path d="M621.6 113.4H634.6M621.6 111.6V115.2M634.6 111.6V115.2M628.1 110.9V115.9M626.6 110.9h3M626.6 115.9h3" stroke="#8db32d" stroke-width="1.1" fill="none" opacity="0.92"/>
<circle cx="628.1" cy="113.4" r="1.1" fill="#8db32d"/>
<path d="M621.6 118.4H634.6M621.6 116.6V120.2M634.6 116.6V120.2M628.1 115.9V120.9M626.6 115.9h3M626.6 120.9h3" stroke="#8db32d" stroke-width="1.1" fill="none" opacity="0.92"/>
<circle cx="628.1" cy="118.4" r="1.1" fill="#8db32d"/>
<path d="M628.1 112.5H641.1M628.1 110.7V114.3M641.1 110.7V114.3M634.6 110.0V115.0M633.1 110.0h3M633.1 115.0h3" stroke="#8db32d" stroke-width="1.1" fill="none" opacity="0.92"/>
<circle cx="634.6" cy="112.5" r="1.1" fill="#8db32d"/>
<path d="M628.1 118.8H641.1M628.1 117.0V120.5M641.1 117.0V120.5M634.6 116.2V121.2M633.1 116.2h3M633.1 121.2h3" stroke="#8db32d" stroke-width="1.1" fill="none" opacity="0.92"/>
<circle cx="634.6" cy="118.8" r="1.1" fill="#8db32d"/>
<path d="M634.6 102.5H647.6M634.6 100.7V104.3M647.6 100.7V104.3M641.1 98.3V106.7M639.6 98.3h3M639.6 106.7h3" stroke="#8db32d" stroke-width="1.1" fill="none" opacity="0.92"/>
<circle cx="641.1" cy="102.5" r="1.1" fill="#8db32d"/>
<path d="M634.6 105.6H647.6M634.6 103.8V107.4M647.6 103.8V107.4M641.1 103.1V108.1M639.6 103.1h3M639.6 108.1h3" stroke="#8db32d" stroke-width="1.1" fill="none" opacity="0.92"/>
<circle cx="641.1" cy="105.6" r="1.1" fill="#8db32d"/>
<path d="M634.6 112.5H647.6M634.6 110.7V114.3M647.6 110.7V114.3M641.1 110.0V115.0M639.6 110.0h3M639.6 115.0h3" stroke="#8db32d" stroke-width="1.1" fill="none" opacity="0.92"/>
<circle cx="641.1" cy="112.5" r="1.1" fill="#8db32d"/>
<path d="M634.6 115.6H647.6M634.6 113.8V117.4M647.6 113.8V117.4M641.1 113.1V118.1M639.6 113.1h3M639.6 118.1h3" stroke="#8db32d" stroke-width="1.1" fill="none" opacity="0.92"/>
<circle cx="641.1" cy="115.6" r="1.1" fill="#8db32d"/>
<path d="M634.6 118.8H647.6M634.6 117.0V120.5M647.6 117.0V120.5M641.1 116.2V121.2M639.6 116.2h3M639.6 121.2h3" stroke="#8db32d" stroke-width="1.1" fill="none" opacity="0.92"/>
<circle cx="641.1" cy="118.8" r="1.1" fill="#8db32d"/>
<path d="M641.1 122.5H654.1M641.1 120.7V124.3M654.1 120.7V124.3M647.6 120.0V125.0M646.1 120.0h3M646.1 125.0h3" stroke="#8db32d" stroke-width="1.1" fill="none" opacity="0.92"/>
<circle cx="647.6" cy="122.5" r="1.1" fill="#8db32d"/>
<path d="M641.1 126.2H654.1M641.1 124.5V128.1M654.1 124.5V128.1M647.6 123.8V128.8M646.1 123.8h3M646.1 128.8h3" stroke="#8db32d" stroke-width="1.1" fill="none" opacity="0.92"/>
<circle cx="647.6" cy="126.2" r="1.1" fill="#8db32d"/>
<path d="M641.1 129.4H654.1M641.1 127.6V131.2M654.1 127.6V131.2M647.6 126.9V131.9M646.1 126.9h3M646.1 131.9h3" stroke="#8db32d" stroke-width="1.1" fill="none" opacity="0.92"/>
<circle cx="647.6" cy="129.4" r="1.1" fill="#8db32d"/>
<path d="M647.6 119.4H660.6M647.6 117.6V121.2M660.6 117.6V121.2M654.1 116.9V121.9M652.6 116.9h3M652.6 121.9h3" stroke="#8db32d" stroke-width="1.1" fill="none" opacity="0.92"/>
<circle cx="654.1" cy="119.4" r="1.1" fill="#8db32d"/>
<path d="M647.6 126.9H660.6M647.6 125.1V128.7M660.6 125.1V128.7M654.1 124.4V129.4M652.6 124.4h3M652.6 129.4h3" stroke="#8db32d" stroke-width="1.1" fill="none" opacity="0.92"/>
<circle cx="654.1" cy="126.9" r="1.1" fill="#8db32d"/>
<path d="M647.6 130.6H660.6M647.6 128.8V132.4M660.6 128.8V132.4M654.1 128.1V133.1M652.6 128.1h3M652.6 133.1h3" stroke="#8db32d" stroke-width="1.1" fill="none" opacity="0.92"/>
<circle cx="654.1" cy="130.6" r="1.1" fill="#8db32d"/>
<path d="M654.1 109.4H667.1M654.1 107.6V111.2M667.1 107.6V111.2M660.6 108.4V110.4" stroke="#e6b13a" stroke-width="1.1" fill="none" opacity="0.92"/>
<circle cx="660.6" cy="109.4" r="1.6" fill="#e6b13a"/>
<path d="M654.1 122.5H667.1M654.1 120.7V124.3M667.1 120.7V124.3M660.6 120.7V124.3" stroke="#e6b13a" stroke-width="1.1" fill="none" opacity="0.92"/>
<circle cx="660.6" cy="122.5" r="1.1" fill="#e6b13a"/>
<path d="M654.1 124.1H667.1M654.1 122.3V125.9M667.1 122.3V125.9M660.6 122.3V125.9" stroke="#e6b13a" stroke-width="1.1" fill="none" opacity="0.92"/>
<circle cx="660.6" cy="124.1" r="1.1" fill="#e6b13a"/>
<path d="M654.1 124.6H667.1M654.1 122.8V126.4M667.1 122.8V126.4M660.6 122.8V126.4" stroke="#e6b13a" stroke-width="1.1" fill="none" opacity="0.92"/>
<circle cx="660.6" cy="124.6" r="1.1" fill="#e6b13a"/>
<path d="M654.1 131.7H667.1M654.1 129.9V133.5M667.1 129.9V133.5M660.6 129.9V133.5" stroke="#e6b13a" stroke-width="1.1" fill="none" opacity="0.92"/>
<circle cx="660.6" cy="131.7" r="1.1" fill="#e6b13a"/>
<path d="M654.1 141.0H667.1M654.1 139.2V142.8M667.1 139.2V142.8M660.6 139.2V142.8" stroke="#e6b13a" stroke-width="1.1" fill="none" opacity="0.92"/>
<circle cx="660.6" cy="141.0" r="1.1" fill="#e6b13a"/>
<path d="M660.6 118.8H673.6M660.6 117.0V120.6M673.6 117.0V120.6M667.1 117.0V120.6" stroke="#e6b13a" stroke-width="1.1" fill="none" opacity="0.92"/>
<circle cx="667.1" cy="118.8" r="1.1" fill="#e6b13a"/>
<path d="M660.6 121.6H673.6M660.6 119.8V123.4M673.6 119.8V123.4M667.1 119.8V123.4" stroke="#e6b13a" stroke-width="1.1" fill="none" opacity="0.92"/>
<circle cx="667.1" cy="121.6" r="1.1" fill="#e6b13a"/>
<path d="M660.6 124.1H673.6M660.6 122.3V125.9M673.6 122.3V125.9M667.1 122.3V125.9" stroke="#e6b13a" stroke-width="1.1" fill="none" opacity="0.92"/>
<circle cx="667.1" cy="124.1" r="1.1" fill="#e6b13a"/>
<path d="M660.6 125.7H673.6M660.6 123.9V127.5M673.6 123.9V127.5M667.1 123.9V127.5" stroke="#e6b13a" stroke-width="1.1" fill="none" opacity="0.92"/>
<circle cx="667.1" cy="125.7" r="1.1" fill="#e6b13a"/>
<path d="M660.6 127.3H673.6M660.6 125.5V129.1M673.6 125.5V129.1M667.1 125.5V129.1" stroke="#e6b13a" stroke-width="1.1" fill="none" opacity="0.92"/>
<circle cx="667.1" cy="127.3" r="1.1" fill="#e6b13a"/>
<path d="M660.6 130.0H673.6M660.6 128.2V131.8M673.6 128.2V131.8M667.1 128.2V131.8" stroke="#e6b13a" stroke-width="1.1" fill="none" opacity="0.92"/>
<circle cx="667.1" cy="130.0" r="1.1" fill="#e6b13a"/>
<path d="M660.6 133.1H673.6M660.6 131.3V134.9M673.6 131.3V134.9M667.1 131.3V134.9" stroke="#e6b13a" stroke-width="1.1" fill="none" opacity="0.92"/>
<circle cx="667.1" cy="133.1" r="1.1" fill="#e6b13a"/>
<path d="M660.6 137.3H673.6M660.6 135.5V139.1M673.6 135.5V139.1M667.1 135.5V139.1" stroke="#e6b13a" stroke-width="1.1" fill="none" opacity="0.92"/>
<circle cx="667.1" cy="137.3" r="1.1" fill="#e6b13a"/>
<path d="M660.6 144.0H673.6M660.6 142.2V145.8M673.6 142.2V145.8M667.1 142.2V145.8" stroke="#e6b13a" stroke-width="1.1" fill="none" opacity="0.92"/>
<circle cx="667.1" cy="144.0" r="1.1" fill="#e6b13a"/>
<path d="M667.2 112.5H680.2M667.2 110.7V114.3M680.2 110.7V114.3M673.7 108.3V116.7M672.2 108.3h3M672.2 116.7h3" stroke="#e6b13a" stroke-width="1.1" fill="none" opacity="0.92"/>
<circle cx="673.7" cy="112.5" r="1.1" fill="#e6b13a"/>
<path d="M667.2 117.0H680.2M667.2 115.2V118.8M680.2 115.2V118.8M673.7 115.2V118.8" stroke="#e6b13a" stroke-width="1.1" fill="none" opacity="0.92"/>
<circle cx="673.7" cy="117.0" r="1.1" fill="#e6b13a"/>
<path d="M667.2 125.0H680.2M667.2 123.2V126.8M680.2 123.2V126.8M673.7 123.2V126.8" stroke="#e6b13a" stroke-width="1.1" fill="none" opacity="0.92"/>
<circle cx="673.7" cy="125.0" r="1.1" fill="#e6b13a"/>
<path d="M667.2 129.4H680.2M667.2 127.6V131.2M680.2 127.6V131.2M673.7 127.6V131.2" stroke="#e6b13a" stroke-width="1.1" fill="none" opacity="0.92"/>
<circle cx="673.7" cy="129.4" r="1.1" fill="#e6b13a"/>
<path d="M667.2 133.7H680.2M667.2 131.9V135.5M680.2 131.9V135.5M673.7 131.9V135.5" stroke="#e6b13a" stroke-width="1.1" fill="none" opacity="0.92"/>
<circle cx="673.7" cy="133.7" r="1.1" fill="#e6b13a"/>
<path d="M667.2 140.0H680.2M667.2 138.2V141.8M680.2 138.2V141.8M673.7 138.2V141.8" stroke="#e6b13a" stroke-width="1.1" fill="none" opacity="0.92"/>
<circle cx="673.7" cy="140.0" r="1.1" fill="#e6b13a"/>
<path d="M673.7 118.8H686.7M673.7 117.0V120.6M686.7 117.0V120.6M680.2 117.0V120.6" stroke="#e6b13a" stroke-width="1.1" fill="none" opacity="0.92"/>
<circle cx="680.2" cy="118.8" r="1.1" fill="#e6b13a"/>
<path d="M673.7 127.1H686.7M673.7 125.3V128.9M686.7 125.3V128.9M680.2 125.3V128.9" stroke="#e6b13a" stroke-width="1.1" fill="none" opacity="0.92"/>
<circle cx="680.2" cy="127.1" r="1.1" fill="#e6b13a"/>
<path d="M673.7 133.0H686.7M673.7 131.2V134.8M686.7 131.2V134.8M680.2 131.2V134.8" stroke="#e6b13a" stroke-width="1.1" fill="none" opacity="0.92"/>
<circle cx="680.2" cy="133.0" r="1.1" fill="#e6b13a"/>
<path d="M673.7 136.2H686.7M673.7 134.4V138.0M686.7 134.4V138.0M680.2 134.4V138.0" stroke="#e6b13a" stroke-width="1.1" fill="none" opacity="0.92"/>
<circle cx="680.2" cy="136.2" r="1.1" fill="#e6b13a"/>
<path d="M673.7 140.0H686.7M673.7 138.2V141.8M686.7 138.2V141.8M680.2 138.2V141.8" stroke="#e6b13a" stroke-width="1.1" fill="none" opacity="0.92"/>
<circle cx="680.2" cy="140.0" r="1.1" fill="#e6b13a"/>
<path d="M680.2 118.8H693.2M680.2 117.0V120.6M693.2 117.0V120.6M686.7 117.0V120.6" stroke="#e6b13a" stroke-width="1.1" fill="none" opacity="0.92"/>
<circle cx="686.7" cy="118.8" r="1.1" fill="#e6b13a"/>
<path d="M680.2 126.3H693.2M680.2 124.5V128.1M693.2 124.5V128.1M686.7 124.5V128.1" stroke="#e6b13a" stroke-width="1.1" fill="none" opacity="0.92"/>
<circle cx="686.7" cy="126.3" r="1.1" fill="#e6b13a"/>
<path d="M680.2 130.3H693.2M680.2 128.5V132.1M693.2 128.5V132.1M686.7 128.5V132.1" stroke="#e6b13a" stroke-width="1.1" fill="none" opacity="0.92"/>
<circle cx="686.7" cy="130.3" r="1.1" fill="#e6b13a"/>
<path d="M680.2 134.0H693.2M680.2 132.2V135.8M693.2 132.2V135.8M686.7 132.2V135.8" stroke="#e6b13a" stroke-width="1.1" fill="none" opacity="0.92"/>
<circle cx="686.7" cy="134.0" r="1.1" fill="#e6b13a"/>
<path d="M680.2 136.4H693.2M680.2 134.6V138.2M693.2 134.6V138.2M686.7 134.6V138.2" stroke="#e6b13a" stroke-width="1.1" fill="none" opacity="0.92"/>
<circle cx="686.7" cy="136.4" r="1.1" fill="#e6b13a"/>
<path d="M680.2 137.1H693.2M680.2 135.3V138.9M693.2 135.3V138.9M686.7 135.3V138.9" stroke="#e6b13a" stroke-width="1.1" fill="none" opacity="0.92"/>
<circle cx="686.7" cy="137.1" r="1.1" fill="#e6b13a"/>
<path d="M680.2 139.0H693.2M680.2 137.2V140.8M693.2 137.2V140.8M686.7 137.2V140.8" stroke="#e6b13a" stroke-width="1.1" fill="none" opacity="0.92"/>
<circle cx="686.7" cy="139.0" r="1.1" fill="#e6b13a"/>
<path d="M680.2 141.0H693.2M680.2 139.2V142.8M693.2 139.2V142.8M686.7 139.2V142.8" stroke="#e6b13a" stroke-width="1.1" fill="none" opacity="0.92"/>
<circle cx="686.7" cy="141.0" r="1.1" fill="#e6b13a"/>
<path d="M686.7 111.9H699.7M686.7 110.1V113.7M699.7 110.1V113.7M693.2 107.7V116.1M691.7 107.7h3M691.7 116.1h3" stroke="#e6b13a" stroke-width="1.1" fill="none" opacity="0.92"/>
<circle cx="693.2" cy="111.9" r="1.1" fill="#e6b13a"/>
<path d="M686.7 153.4H699.7M686.7 151.6V155.2M699.7 151.6V155.2M693.2 151.6V155.2" stroke="#e6b13a" stroke-width="1.1" fill="none" opacity="0.92"/>
<circle cx="693.2" cy="153.4" r="1.1" fill="#e6b13a"/>
<path d="M686.7 120.6H699.7M686.7 118.8V122.4M699.7 118.8V122.4M693.2 118.8V122.4" stroke="#e6b13a" stroke-width="1.1" fill="none" opacity="0.92"/>
<circle cx="693.2" cy="120.6" r="1.1" fill="#e6b13a"/>
<path d="M686.7 127.7H699.7M686.7 125.9V129.5M699.7 125.9V129.5M693.2 125.9V129.5" stroke="#e6b13a" stroke-width="1.1" fill="none" opacity="0.92"/>
<circle cx="693.2" cy="127.7" r="1.1" fill="#e6b13a"/>
<path d="M686.7 132.1H699.7M686.7 130.3V133.9M699.7 130.3V133.9M693.2 130.3V133.9" stroke="#e6b13a" stroke-width="1.1" fill="none" opacity="0.92"/>
<circle cx="693.2" cy="132.1" r="1.1" fill="#e6b13a"/>
<path d="M686.7 134.6H699.7M686.7 132.8V136.4M699.7 132.8V136.4M693.2 132.8V136.4" stroke="#e6b13a" stroke-width="1.1" fill="none" opacity="0.92"/>
<circle cx="693.2" cy="134.6" r="1.1" fill="#e6b13a"/>
<path d="M686.7 137.6H699.7M686.7 135.8V139.4M699.7 135.8V139.4M693.2 135.8V139.4" stroke="#e6b13a" stroke-width="1.1" fill="none" opacity="0.92"/>
<circle cx="693.2" cy="137.6" r="1.1" fill="#e6b13a"/>
<path d="M686.7 139.8H699.7M686.7 138.0V141.6M699.7 138.0V141.6M693.2 138.0V141.6" stroke="#e6b13a" stroke-width="1.1" fill="none" opacity="0.92"/>
<circle cx="693.2" cy="139.8" r="1.1" fill="#e6b13a"/>
<path d="M686.7 140.8H699.7M686.7 139.0V142.6M699.7 139.0V142.6M693.2 139.0V142.6" stroke="#e6b13a" stroke-width="1.1" fill="none" opacity="0.92"/>
<circle cx="693.2" cy="140.8" r="1.1" fill="#e6b13a"/>
<path d="M686.7 141.1H699.7M686.7 139.3V142.9M699.7 139.3V142.9M693.2 139.3V142.9" stroke="#e6b13a" stroke-width="1.1" fill="none" opacity="0.92"/>
<circle cx="693.2" cy="141.1" r="1.1" fill="#e6b13a"/>
<path d="M686.7 142.2H699.7M686.7 140.4V144.0M699.7 140.4V144.0M693.2 140.4V144.0" stroke="#e6b13a" stroke-width="1.1" fill="none" opacity="0.92"/>
<circle cx="693.2" cy="142.2" r="1.1" fill="#e6b13a"/>
<path d="M686.7 145.0H699.7M686.7 143.2V146.8M699.7 143.2V146.8M693.2 143.2V146.8" stroke="#e6b13a" stroke-width="1.1" fill="none" opacity="0.92"/>
<circle cx="693.2" cy="145.0" r="1.1" fill="#e6b13a"/>
<path d="M693.2 123.0H706.2M693.2 121.2V124.8M706.2 121.2V124.8M699.7 121.2V124.8" stroke="#e6b13a" stroke-width="1.1" fill="none" opacity="0.92"/>
<circle cx="699.7" cy="123.0" r="1.1" fill="#e6b13a"/>
<path d="M693.2 130.0H706.2M693.2 128.2V131.8M706.2 128.2V131.8M699.7 128.2V131.8" stroke="#e6b13a" stroke-width="1.1" fill="none" opacity="0.92"/>
<circle cx="699.7" cy="130.0" r="1.1" fill="#e6b13a"/>
<path d="M693.2 133.0H706.2M693.2 131.2V134.8M706.2 131.2V134.8M699.7 131.2V134.8" stroke="#e6b13a" stroke-width="1.1" fill="none" opacity="0.92"/>
<circle cx="699.7" cy="133.0" r="1.1" fill="#e6b13a"/>
<path d="M693.2 136.7H706.2M693.2 134.9V138.5M706.2 134.9V138.5M699.7 134.9V138.5" stroke="#e6b13a" stroke-width="1.1" fill="none" opacity="0.92"/>
<circle cx="699.7" cy="136.7" r="1.1" fill="#e6b13a"/>
<path d="M693.2 138.9H706.2M693.2 137.1V140.7M706.2 137.1V140.7M699.7 137.1V140.7" stroke="#e6b13a" stroke-width="1.1" fill="none" opacity="0.92"/>
<circle cx="699.7" cy="138.9" r="1.1" fill="#e6b13a"/>
<path d="M693.2 141.7H706.2M693.2 139.9V143.5M706.2 139.9V143.5M699.7 139.9V143.5" stroke="#e6b13a" stroke-width="1.1" fill="none" opacity="0.92"/>
<circle cx="699.7" cy="141.7" r="1.1" fill="#e6b13a"/>
<path d="M693.2 143.9H706.2M693.2 142.1V145.7M706.2 142.1V145.7M699.7 142.1V145.7" stroke="#e6b13a" stroke-width="1.1" fill="none" opacity="0.92"/>
<circle cx="699.7" cy="143.9" r="1.1" fill="#e6b13a"/>
<path d="M693.2 146.0H706.2M693.2 144.2V147.8M706.2 144.2V147.8M699.7 144.2V147.8" stroke="#e6b13a" stroke-width="1.1" fill="none" opacity="0.92"/>
<circle cx="699.7" cy="146.0" r="1.1" fill="#e6b13a"/>
<path d="M693.2 148.1H706.2M693.2 146.3V149.9M706.2 146.3V149.9M699.7 146.3V149.9" stroke="#e6b13a" stroke-width="1.1" fill="none" opacity="0.92"/>
<circle cx="699.7" cy="148.1" r="1.1" fill="#e6b13a"/>
<path d="M693.2 151.3H706.2M693.2 149.5V153.1M706.2 149.5V153.1M699.7 149.5V153.1" stroke="#e6b13a" stroke-width="1.1" fill="none" opacity="0.92"/>
<circle cx="699.7" cy="151.3" r="1.1" fill="#e6b13a"/>
<path d="M693.2 154.8H706.2M693.2 153.0V156.6M706.2 153.0V156.6M699.7 153.0V156.6" stroke="#e6b13a" stroke-width="1.1" fill="none" opacity="0.92"/>
<circle cx="699.7" cy="154.8" r="1.1" fill="#e6b13a"/>
<path d="M693.2 160.5H706.2M693.2 158.7V162.3M706.2 158.7V162.3M699.7 158.7V162.3" stroke="#e6b13a" stroke-width="1.1" fill="none" opacity="0.92"/>
<circle cx="699.7" cy="160.5" r="1.1" fill="#e6b13a"/>
<path d="M699.7 128.5H712.7M699.7 126.7V130.3M712.7 126.7V130.3M706.2 126.7V130.3" stroke="#e6b13a" stroke-width="1.1" fill="none" opacity="0.92"/>
<circle cx="706.2" cy="128.5" r="1.1" fill="#e6b13a"/>
<path d="M699.7 135.1H712.7M699.7 133.3V136.9M712.7 133.3V136.9M706.2 133.3V136.9" stroke="#e6b13a" stroke-width="1.1" fill="none" opacity="0.92"/>
<circle cx="706.2" cy="135.1" r="1.1" fill="#e6b13a"/>
<path d="M699.7 139.9H712.7M699.7 138.1V141.7M712.7 138.1V141.7M706.2 138.1V141.7" stroke="#e6b13a" stroke-width="1.1" fill="none" opacity="0.92"/>
<circle cx="706.2" cy="139.9" r="1.1" fill="#e6b13a"/>
<path d="M699.7 143.0H712.7M699.7 141.2V144.8M712.7 141.2V144.8M706.2 141.2V144.8" stroke="#e6b13a" stroke-width="1.1" fill="none" opacity="0.92"/>
<circle cx="706.2" cy="143.0" r="1.1" fill="#e6b13a"/>
<path d="M699.7 145.4H712.7M699.7 143.6V147.2M712.7 143.6V147.2M706.2 143.6V147.2" stroke="#e6b13a" stroke-width="1.1" fill="none" opacity="0.92"/>
<circle cx="706.2" cy="145.4" r="1.1" fill="#e6b13a"/>
<path d="M699.7 148.3H712.7M699.7 146.5V150.1M712.7 146.5V150.1M706.2 146.5V150.1" stroke="#e6b13a" stroke-width="1.1" fill="none" opacity="0.92"/>
<circle cx="706.2" cy="148.3" r="1.1" fill="#e6b13a"/>
<path d="M699.7 150.0H712.7M699.7 148.2V151.8M712.7 148.2V151.8M706.2 148.2V151.8" stroke="#e6b13a" stroke-width="1.1" fill="none" opacity="0.92"/>
<circle cx="706.2" cy="150.0" r="1.1" fill="#e6b13a"/>
<path d="M699.7 153.2H712.7M699.7 151.4V155.0M712.7 151.4V155.0M706.2 151.4V155.0" stroke="#e6b13a" stroke-width="1.1" fill="none" opacity="0.92"/>
<circle cx="706.2" cy="153.2" r="1.1" fill="#e6b13a"/>
<path d="M699.7 156.5H712.7M699.7 154.7V158.3M712.7 154.7V158.3M706.2 154.7V158.3" stroke="#e6b13a" stroke-width="1.1" fill="none" opacity="0.92"/>
<circle cx="706.2" cy="156.5" r="1.1" fill="#e6b13a"/>
<path d="M699.7 162.0H712.7M699.7 160.2V163.8M712.7 160.2V163.8M706.2 160.2V163.8" stroke="#e6b13a" stroke-width="1.1" fill="none" opacity="0.92"/>
<circle cx="706.2" cy="162.0" r="1.1" fill="#e6b13a"/>
<path d="M706.2 139.0H719.2M706.2 137.2V140.8M719.2 137.2V140.8M712.7 137.2V140.8" stroke="#e6b13a" stroke-width="1.1" fill="none" opacity="0.92"/>
<circle cx="712.7" cy="139.0" r="1.1" fill="#e6b13a"/>
<path d="M706.2 144.1H719.2M706.2 142.3V145.9M719.2 142.3V145.9M712.7 142.3V145.9" stroke="#e6b13a" stroke-width="1.1" fill="none" opacity="0.92"/>
<circle cx="712.7" cy="144.1" r="1.1" fill="#e6b13a"/>
<path d="M706.2 147.3H719.2M706.2 145.5V149.1M719.2 145.5V149.1M712.7 145.5V149.1" stroke="#e6b13a" stroke-width="1.1" fill="none" opacity="0.92"/>
<circle cx="712.7" cy="147.3" r="1.1" fill="#e6b13a"/>
<path d="M706.2 149.1H719.2M706.2 147.3V150.9M719.2 147.3V150.9M712.7 147.3V150.9" stroke="#e6b13a" stroke-width="1.1" fill="none" opacity="0.92"/>
<circle cx="712.7" cy="149.1" r="1.1" fill="#e6b13a"/>
<path d="M706.2 151.8H719.2M706.2 150.0V153.6M719.2 150.0V153.6M712.7 150.0V153.6" stroke="#e6b13a" stroke-width="1.1" fill="none" opacity="0.92"/>
<circle cx="712.7" cy="151.8" r="1.1" fill="#e6b13a"/>
<path d="M706.2 153.4H719.2M706.2 151.6V155.2M719.2 151.6V155.2M712.7 151.6V155.2" stroke="#e6b13a" stroke-width="1.1" fill="none" opacity="0.92"/>
<circle cx="712.7" cy="153.4" r="1.1" fill="#e6b13a"/>
<path d="M706.2 154.7H719.2M706.2 152.9V156.5M719.2 152.9V156.5M712.7 152.9V156.5" stroke="#e6b13a" stroke-width="1.1" fill="none" opacity="0.92"/>
<circle cx="712.7" cy="154.7" r="1.1" fill="#e6b13a"/>
<path d="M706.2 157.7H719.2M706.2 155.9V159.5M719.2 155.9V159.5M712.7 155.9V159.5" stroke="#e6b13a" stroke-width="1.1" fill="none" opacity="0.92"/>
<circle cx="712.7" cy="157.7" r="1.1" fill="#e6b13a"/>
<path d="M706.2 162.0H719.2M706.2 160.2V163.8M719.2 160.2V163.8M712.7 160.2V163.8" stroke="#e6b13a" stroke-width="1.1" fill="none" opacity="0.92"/>
<circle cx="712.7" cy="162.0" r="1.1" fill="#e6b13a"/>
<path d="M712.7 142.7H725.7M712.7 140.9V144.5M725.7 140.9V144.5M719.2 140.9V144.5" stroke="#e6b13a" stroke-width="1.1" fill="none" opacity="0.92"/>
<circle cx="719.2" cy="142.7" r="1.1" fill="#e6b13a"/>
<path d="M712.7 148.0H725.7M712.7 146.2V149.8M725.7 146.2V149.8M719.2 146.2V149.8" stroke="#e6b13a" stroke-width="1.1" fill="none" opacity="0.92"/>
<circle cx="719.2" cy="148.0" r="1.1" fill="#e6b13a"/>
<path d="M712.7 152.0H725.7M712.7 150.2V153.8M725.7 150.2V153.8M719.2 150.2V153.8" stroke="#e6b13a" stroke-width="1.1" fill="none" opacity="0.92"/>
<circle cx="719.2" cy="152.0" r="1.1" fill="#e6b13a"/>
<path d="M712.7 154.8H725.7M712.7 153.0V156.6M725.7 153.0V156.6M719.2 153.0V156.6" stroke="#e6b13a" stroke-width="1.1" fill="none" opacity="0.92"/>
<circle cx="719.2" cy="154.8" r="1.1" fill="#e6b13a"/>
<path d="M712.7 156.6H725.7M712.7 154.8V158.4M725.7 154.8V158.4M719.2 154.8V158.4" stroke="#e6b13a" stroke-width="1.1" fill="none" opacity="0.92"/>
<circle cx="719.2" cy="156.6" r="1.1" fill="#e6b13a"/>
<path d="M712.7 159.0H725.7M712.7 157.2V160.8M725.7 157.2V160.8M719.2 157.2V160.8" stroke="#e6b13a" stroke-width="1.1" fill="none" opacity="0.92"/>
<circle cx="719.2" cy="159.0" r="1.1" fill="#e6b13a"/>
<path d="M712.7 160.1H725.7M712.7 158.3V161.9M725.7 158.3V161.9M719.2 158.3V161.9" stroke="#e6b13a" stroke-width="1.1" fill="none" opacity="0.92"/>
<circle cx="719.2" cy="160.1" r="1.1" fill="#e6b13a"/>
<path d="M712.7 163.7H725.7M712.7 161.9V165.5M725.7 161.9V165.5M719.2 161.9V165.5" stroke="#e6b13a" stroke-width="1.1" fill="none" opacity="0.92"/>
<circle cx="719.2" cy="163.7" r="1.1" fill="#e6b13a"/>
<path d="M719.2 148.0H732.2M719.2 146.2V149.8M732.2 146.2V149.8M725.7 146.2V149.8" stroke="#e6b13a" stroke-width="1.1" fill="none" opacity="0.92"/>
<circle cx="725.7" cy="148.0" r="1.1" fill="#e6b13a"/>
<path d="M719.2 155.8H732.2M719.2 154.0V157.6M732.2 154.0V157.6M725.7 154.0V157.6" stroke="#e6b13a" stroke-width="1.1" fill="none" opacity="0.92"/>
<circle cx="725.7" cy="155.8" r="1.1" fill="#e6b13a"/>
<path d="M719.2 172.4H732.2M719.2 170.6V174.2M732.2 170.6V174.2M725.7 171.4V173.4" stroke="#e6b13a" stroke-width="1.1" fill="none" opacity="0.92"/>
<circle cx="725.7" cy="172.4" r="1.6" fill="#e6b13a"/>
<path d="M725.8 169.2H738.8M725.8 167.4V171.0M738.8 167.4V171.0M732.2 167.4V171.0" stroke="#e6b13a" stroke-width="1.1" fill="none" opacity="0.92"/>
<circle cx="732.2" cy="169.2" r="1.1" fill="#e6b13a"/>
<path d="M725.8 171.5H738.8M725.8 169.7V173.3M738.8 169.7V173.3M732.2 169.7V173.3" stroke="#e6b13a" stroke-width="1.1" fill="none" opacity="0.92"/>
<circle cx="732.2" cy="171.5" r="1.1" fill="#e6b13a"/>
<path d="M725.8 178.7H738.8M725.8 176.9V180.5M738.8 176.9V180.5M732.2 177.7V179.7" stroke="#e6b13a" stroke-width="1.1" fill="none" opacity="0.92"/>
<circle cx="732.2" cy="178.7" r="1.6" fill="#e6b13a"/>
<path d="M725.8 181.0H738.8M725.8 179.2V182.8M738.8 179.2V182.8M732.2 180.0V182.0" stroke="#e6b13a" stroke-width="1.1" fill="none" opacity="0.92"/>
<circle cx="732.2" cy="181.0" r="1.6" fill="#e6b13a"/>
<path d="M738.8 186.6H751.8M738.8 184.8V188.4M751.8 184.8V188.4M745.3 185.6V187.6" stroke="#e6b13a" stroke-width="1.1" fill="none" opacity="0.92"/>
<circle cx="745.3" cy="186.6" r="1.6" fill="#e6b13a"/>
</g>
<path d="M419.4 49.4 L424.9 50.7 L430.5 52.2 L436.0 53.8 L441.6 55.5 L447.1 57.3 L452.6 59.2 L458.2 61.1 L463.7 63.1 L469.3 65.2 L474.8 67.3 L480.3 69.4 L485.9 71.5 L491.4 73.6 L497.0 75.7 L502.5 77.7 L508.1 79.8 L513.6 81.8 L519.1 83.8 L524.7 85.8 L530.2 87.7 L535.8 89.5 L541.3 91.3 L546.8 93.1 L552.4 94.8 L557.9 96.5 L563.5 98.1 L569.0 99.6 L574.5 101.2 L580.1 102.7 L585.6 104.1 L591.2 105.6 L596.7 107.0 L602.2 108.4 L607.8 109.8 L613.3 111.2 L618.9 112.6 L624.4 114.0 L629.9 115.5 L635.5 117.0 L641.0 118.6 L646.6 120.2 L652.1 121.9 L657.6 123.8 L663.2 125.7 L668.7 127.8 L674.3 130.1 L679.8 132.5 L685.4 135.1 L690.9 137.9 L696.4 140.9 L702.0 144.2 L707.5 147.8 L713.1 151.6 L718.6 155.8 L724.1 160.3 L729.7 165.2 L735.2 170.5 L740.8 176.2 L746.3 182.3" stroke="#000" stroke-width="2.0" fill="none" stroke-linejoin="round"/>
<rect x="406.7" y="0" width="352.79999999999995" height="1.6" fill="#b0b0b0"/>
<path d="M407.3 0V301.0H758.9V0" fill="none" stroke="#888888" stroke-width="1.2"/>
<path d="M420.31 0.5v3.1M420.31 301.0v-3.0M433.32 0.5v3.1M433.32 301.0v-3.0M446.33 0.5v3.1M446.33 301.0v-3.0M459.34 0.5v3.1M459.34 301.0v-3.0M472.35 0.5v5.1M472.35 301.0v-5.0M485.36 0.5v3.1M485.36 301.0v-3.0M498.37 0.5v3.1M498.37 301.0v-3.0M511.38 0.5v3.1M511.38 301.0v-3.0M524.39 0.5v3.1M524.39 301.0v-3.0M537.40 0.5v5.1M537.40 301.0v-5.0M550.41 0.5v3.1M550.41 301.0v-3.0M563.42 0.5v3.1M563.42 301.0v-3.0M576.43 0.5v3.1M576.43 301.0v-3.0M589.44 0.5v3.1M589.44 301.0v-3.0M602.45 0.5v5.1M602.45 301.0v-5.0M615.46 0.5v3.1M615.46 301.0v-3.0M628.47 0.5v3.1M628.47 301.0v-3.0M641.48 0.5v3.1M641.48 301.0v-3.0M654.49 0.5v3.1M654.49 301.0v-3.0M667.50 0.5v5.1M667.50 301.0v-5.0M680.51 0.5v3.1M680.51 301.0v-3.0M693.52 0.5v3.1M693.52 301.0v-3.0M706.53 0.5v3.1M706.53 301.0v-3.0M719.54 0.5v3.1M719.54 301.0v-3.0M732.55 0.5v5.1M732.55 301.0v-5.0M745.56 0.5v3.1M745.56 301.0v-3.0M407.3 12.12h2.6M758.9 12.12h-2.6M407.3 23.25h5.2M758.9 23.25h-5.2M407.3 34.38h2.6M758.9 34.38h-2.6M407.3 45.52h2.6M758.9 45.52h-2.6M407.3 56.66h2.6M758.9 56.66h-2.6M407.3 67.79h5.2M758.9 67.79h-5.2M407.3 78.92h2.6M758.9 78.92h-2.6M407.3 90.06h2.6M758.9 90.06h-2.6M407.3 101.19h2.6M758.9 101.19h-2.6M407.3 112.33h5.2M758.9 112.33h-5.2M407.3 123.47h2.6M758.9 123.47h-2.6M407.3 134.60h2.6M758.9 134.60h-2.6M407.3 145.74h2.6M758.9 145.74h-2.6M407.3 156.87h5.2M758.9 156.87h-5.2M407.3 168.00h2.6M758.9 168.00h-2.6M407.3 179.14h2.6M758.9 179.14h-2.6M407.3 190.28h2.6M758.9 190.28h-2.6M407.3 201.41h5.2M758.9 201.41h-5.2M407.3 212.54h2.6M758.9 212.54h-2.6M407.3 223.68h2.6M758.9 223.68h-2.6M407.3 234.81h2.6M758.9 234.81h-2.6M407.3 245.95h5.2M758.9 245.95h-5.2M407.3 257.09h2.6M758.9 257.09h-2.6M407.3 268.22h2.6M758.9 268.22h-2.6M407.3 279.36h2.6M758.9 279.36h-2.6M407.3 290.49h5.2M758.9 290.49h-5.2" stroke="#888888" stroke-width="1" fill="none"/>
<text x="407.3" y="314.8" font-size="14" text-anchor="middle" fill="#000" stroke="#000" stroke-width="0.2">M5</text>
<text x="472.4" y="314.8" font-size="14" text-anchor="middle" fill="#000" stroke="#000" stroke-width="0.2">L0</text>
<text x="537.4" y="314.8" font-size="14" text-anchor="middle" fill="#000" stroke="#000" stroke-width="0.2">L5</text>
<text x="602.5" y="314.8" font-size="14" text-anchor="middle" fill="#000" stroke="#000" stroke-width="0.2">T0</text>
<text x="667.5" y="314.8" font-size="14" text-anchor="middle" fill="#000" stroke="#000" stroke-width="0.2">T5</text>
<text x="732.5" y="314.8" font-size="14" text-anchor="middle" fill="#000" stroke="#000" stroke-width="0.2">Y0</text>
<text x="581.9" y="332.4" font-size="17.5" text-anchor="middle" fill="#000" stroke="#000" stroke-width="0.2">Spectral Type</text>
<text x="601.5" y="38.3" font-size="17.4" text-anchor="middle" fill="#000" stroke="#000" stroke-width="0.2">WISE band 2</text>
<rect x="699.4" y="20.8" width="35.8" height="20.7" fill="#c0c0c0" stroke="#9c9c9c" stroke-width="1"/>
<text x="717.3" y="35.4" font-size="17.3" text-anchor="middle" fill="#000" stroke="#000" stroke-width="0.2">0.28</text>
<rect x="422" y="272.4" width="35.5" height="20.1" fill="#c27ba3" stroke="#96607e" stroke-width="1"/>
<text x="439.8" y="287.0" font-size="17.3" text-anchor="middle" fill="#000" stroke="#000" stroke-width="0.2">0.19</text>
<rect x="480.5" y="272.4" width="35.7" height="20.1" fill="#8e9cc9" stroke="#6c7aa4" stroke-width="1"/>
<text x="498.4" y="287.0" font-size="17.3" text-anchor="middle" fill="#000" stroke="#000" stroke-width="0.2">0.16</text>
<rect x="539.3" y="272.4" width="35.2" height="20.1" fill="#9ac4ea" stroke="#74a0c8" stroke-width="1"/>
<text x="556.9" y="287.0" font-size="17.3" text-anchor="middle" fill="#000" stroke="#000" stroke-width="0.2">0.32</text>
<rect x="597.5" y="272.4" width="36.2" height="20.1" fill="#bfd796" stroke="#98b272" stroke-width="1"/>
<text x="615.6" y="287.0" font-size="17.3" text-anchor="middle" fill="#000" stroke="#000" stroke-width="0.2">0.28</text>
<rect x="656.3" y="272.4" width="35.3" height="20.1" fill="#f5d9a1" stroke="#c4aa76" stroke-width="1"/>
<text x="673.9" y="287.0" font-size="17.3" text-anchor="middle" fill="#000" stroke="#000" stroke-width="0.2">0.32</text>
<text x="34.7" y="28.6" font-size="14" text-anchor="end" fill="#000" stroke="#000" stroke-width="0.2">8</text>
<text x="34.7" y="73.1" font-size="14" text-anchor="end" fill="#000" stroke="#000" stroke-width="0.2">10</text>
<text x="34.7" y="117.6" font-size="14" text-anchor="end" fill="#000" stroke="#000" stroke-width="0.2">12</text>
<text x="34.7" y="162.2" font-size="14" text-anchor="end" fill="#000" stroke="#000" stroke-width="0.2">14</text>
<text x="34.7" y="206.7" font-size="14" text-anchor="end" fill="#000" stroke="#000" stroke-width="0.2">16</text>
<text x="34.7" y="251.2" font-size="14" text-anchor="end" fill="#000" stroke="#000" stroke-width="0.2">18</text>
<text x="34.7" y="295.8" font-size="14" text-anchor="end" fill="#000" stroke="#000" stroke-width="0.2">20</text>
<text transform="translate(13.2 151.2) rotate(-90)" font-size="17.7" text-anchor="middle" fill="#000" stroke="#000" stroke-width="0.2">Absolute Magnitude</text>
</svg>
</body></html>
